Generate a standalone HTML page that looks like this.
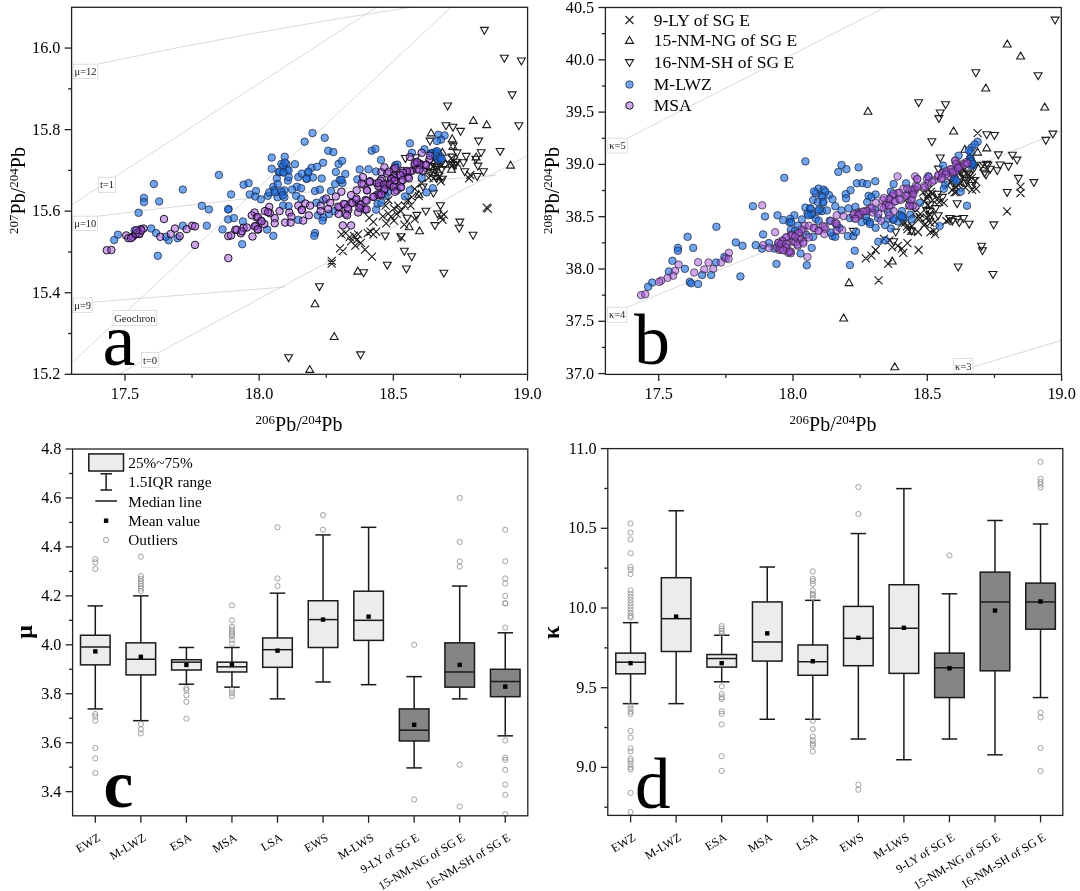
<!DOCTYPE html><html><head><meta charset="utf-8"><style>html,body{margin:0;padding:0;background:#fff;width:1080px;height:891px;overflow:hidden}svg{display:block;will-change:transform}</style></head><body><svg width="1080" height="891" viewBox="0 0 1080 891" font-family="Liberation Serif, serif">
<rect width="1080" height="891" fill="#fff"/>
<g stroke="#cfcfcf" stroke-width="0.8" fill="none">
<path d="M97.8,64 Q259,30 410.7,7.3"/>
<path d="M72,204.6 L376.5,7.3"/>
<path d="M97.5,216.2 Q317.2,188.7 496.4,175.3"/>
<path d="M92.2,302.2 L285,287"/>
<path d="M72.5,362.4 L450.8,7.3"/>
<path d="M117.9,374.3 L527.6,155.5"/>
</g>
<defs><clipPath id="ca"><rect x="71.6" y="7.3" width="456.0" height="367.0"/></clipPath></defs>
<g clip-path="url(#ca)">
<path d="M341.6,229.1L349.6,237.1M341.6,237.1L349.6,229.1M345.7,233.2L353.7,241.2M345.7,241.2L353.7,233.2M349.9,231.8L357.9,239.8M349.9,239.8L357.9,231.8M354.1,230.4L362.1,238.4M354.1,238.4L362.1,230.4M352.7,236.0L360.7,244.0M352.7,244.0L360.7,236.0M356.8,238.8L364.8,246.8M356.8,246.8L364.8,238.8M366.6,227.7L374.6,235.7M366.6,235.7L374.6,227.7M369.3,230.4L377.3,238.4M369.3,238.4L377.3,230.4M363.8,229.1L371.8,237.1M363.8,237.1L371.8,229.1M372.1,227.7L380.1,235.7M372.1,235.7L380.1,227.7M337.4,230.4L345.4,238.4M337.4,238.4L345.4,230.4M336.0,244.3L344.0,252.3M336.0,252.3L344.0,244.3M338.8,247.1L346.8,255.1M338.8,255.1L346.8,247.1M351.3,241.6L359.3,249.6M351.3,249.6L359.3,241.6M361.0,245.7L369.0,253.7M361.0,253.7L369.0,245.7M367.9,252.7L375.9,260.7M367.9,260.7L375.9,252.7M327.7,256.8L335.7,264.8M327.7,264.8L335.7,256.8M327.7,259.6L335.7,267.6M327.7,267.6L335.7,259.6M347.1,237.4L355.1,245.4M347.1,245.4L355.1,237.4M365.2,213.8L373.2,221.8M365.2,221.8L373.2,213.8M369.3,217.9L377.3,225.9M369.3,225.9L377.3,217.9M482.7,203.6L490.7,211.6M482.7,211.6L490.7,203.6M483.8,204.6L491.8,212.6M483.8,212.6L491.8,204.6M466.3,171.0L474.3,179.0M466.3,179.0L474.3,171.0M439.9,210.6L447.9,218.6M439.9,218.6L447.9,210.6M437.1,212.7L445.1,220.7M437.1,220.7L445.1,212.7M431.6,158.5L439.6,166.5M431.6,166.5L439.6,158.5M434.3,165.4L442.3,173.4M434.3,173.4L442.3,165.4M428.8,168.2L436.8,176.2M428.8,176.2L436.8,168.2M424.6,173.8L432.6,181.8M424.6,181.8L432.6,173.8M417.7,179.3L425.7,187.3M417.7,187.3L425.7,179.3M410.7,184.9L418.7,192.9M410.7,192.9L418.7,184.9M407.9,193.2L415.9,201.2M407.9,201.2L415.9,193.2M403.8,196.0L411.8,204.0M403.8,204.0L411.8,196.0M401.0,201.6L409.0,209.6M401.0,209.6L409.0,201.6M394.1,201.6L402.1,209.6M394.1,209.6L402.1,201.6M389.9,204.3L397.9,212.3M389.9,212.3L397.9,204.3M384.3,196.0L392.3,204.0M384.3,204.0L392.3,196.0M381.6,201.6L389.6,209.6M381.6,209.6L389.6,201.6M396.8,207.1L404.8,215.1M396.8,215.1L404.8,207.1M392.7,209.9L400.7,217.9M392.7,217.9L400.7,209.9M387.1,212.7L395.1,220.7M387.1,220.7L395.1,212.7M406.6,201.6L414.6,209.6M406.6,209.6L414.6,201.6M437.1,161.3L445.1,169.3M437.1,169.3L445.1,161.3M428.8,162.7L436.8,170.7M428.8,170.7L436.8,162.7M421.8,168.2L429.8,176.2M421.8,176.2L429.8,168.2M438.5,215.9L446.5,223.9M438.5,223.9L446.5,215.9M410.7,215.2L418.7,223.2M410.7,223.2L418.7,215.2M400.3,220.7L408.3,228.7M400.3,228.7L408.3,220.7M382.2,219.3L390.2,227.3M382.2,227.3L390.2,219.3M397.5,233.9L405.5,241.9M397.5,241.9L405.5,233.9M389.9,216.6L397.9,224.6M389.9,224.6L397.9,216.6M384.3,209.6L392.3,217.6M384.3,217.6L392.3,209.6M378.8,212.4L386.8,220.4M378.8,220.4L386.8,212.4M414.9,192.2L422.9,200.2M414.9,200.2L422.9,192.2M425.8,159.5L433.8,167.5M425.8,167.5L433.8,159.5M429.5,174.3L437.5,182.3M429.5,182.3L437.5,174.3M435.4,172.9L443.4,180.9M435.4,180.9L443.4,172.9M436.9,177.3L444.9,185.3M436.9,185.3L444.9,177.3M447.3,154.3L455.3,162.3M447.3,162.3L455.3,154.3M450.3,156.6L458.3,164.6M450.3,164.6L458.3,156.6M445.1,159.5L453.1,167.5M445.1,167.5L453.1,159.5M448.8,161.0L456.8,169.0M448.8,169.0L456.8,161.0M453.2,159.5L461.2,167.5M453.2,167.5L461.2,159.5M465.1,174.3L473.1,182.3M465.1,182.3L473.1,174.3" stroke="#1c1c1c" stroke-width="1.1" fill="none"/>
<path d="M385.1,239.9L389.1,233.0L381.2,233.0ZM387.2,269.1L391.2,262.2L383.3,262.2ZM363.6,276.7L367.6,269.8L359.7,269.8ZM319.4,290.6L323.4,283.7L315.5,283.7ZM357.8,267.2L361.7,274.1L353.8,274.1ZM315.0,299.8L318.9,306.7L311.1,306.7ZM447.6,109.9L451.6,103.0L443.7,103.0ZM518.9,129.7L522.8,122.8L514.9,122.8ZM446.0,129.7L449.9,122.8L442.0,122.8ZM452.9,131.1L456.9,124.2L449.0,124.2ZM460.6,135.3L464.5,128.4L456.6,128.4ZM478.6,145.0L482.6,138.1L474.7,138.1ZM500.1,155.4L504.1,148.5L496.2,148.5ZM481.1,156.5L485.1,149.7L477.2,149.7ZM466.1,160.3L470.1,153.4L462.2,153.4ZM475.8,163.1L479.8,156.2L471.9,156.2ZM477.9,170.0L481.9,163.1L474.0,163.1ZM464.7,175.6L468.7,168.7L460.8,168.7ZM483.5,175.6L487.4,168.7L479.5,168.7ZM477.2,180.4L481.2,173.5L473.3,173.5ZM452.2,161.0L456.2,154.1L448.3,154.1ZM457.1,156.8L461.0,149.9L453.1,149.9ZM463.3,166.5L467.3,159.7L459.4,159.7ZM455.0,169.3L458.9,162.4L451.1,162.4ZM430.0,145.0L433.9,138.1L426.1,138.1ZM440.4,209.6L444.4,202.7L436.5,202.7ZM425.8,215.2L429.8,208.3L421.9,208.3ZM437.6,217.9L441.6,211.0L433.7,211.0ZM416.8,219.3L420.8,212.4L412.9,212.4ZM407.1,222.1L411.0,215.2L403.1,215.2ZM433.5,197.1L437.4,190.2L429.5,190.2ZM423.1,190.9L427.0,184.0L419.1,184.0ZM442.5,183.2L446.4,176.3L438.6,176.3ZM438.3,179.0L442.3,172.2L434.4,172.2ZM473.3,116.5L477.3,123.4L469.4,123.4ZM486.7,120.7L490.6,127.6L482.7,127.6ZM431.1,129.0L435.1,135.9L427.2,135.9ZM452.2,134.8L456.2,141.7L448.3,141.7ZM510.6,161.2L514.5,168.1L506.6,168.1ZM451.5,165.4L455.5,172.3L447.6,172.3ZM452.9,142.5L456.9,149.4L449.0,149.4ZM418.9,190.4L422.8,197.3L414.9,197.3ZM459.9,226.0L463.8,219.1L455.9,219.1ZM459.2,232.2L463.1,225.3L455.2,225.3ZM434.9,229.5L438.8,222.6L430.9,222.6ZM473.1,239.2L477.0,232.3L469.1,232.3ZM400.8,240.6L404.8,233.7L396.9,233.7ZM404.3,255.2L408.3,248.3L400.4,248.3ZM411.7,260.7L415.6,253.8L407.7,253.8ZM406.4,272.9L410.3,266.0L402.4,266.0ZM443.9,277.1L447.8,270.2L439.9,270.2ZM419.6,226.9L423.5,233.8L415.6,233.8ZM409.2,222.8L413.1,229.7L405.2,229.7ZM484.4,34.3L488.4,27.4L480.5,27.4ZM504.3,62.1L508.3,55.2L500.4,55.2ZM521.4,64.9L525.3,58.0L517.4,58.0ZM512.2,98.8L516.2,91.9L508.3,91.9ZM288.6,361.6L292.6,354.7L284.7,354.7ZM360.6,358.8L364.5,351.9L356.6,351.9ZM334.2,332.6L338.1,339.5L330.2,339.5ZM309.7,365.5L313.7,372.4L305.8,372.4ZM442.4,148.4L446.4,155.3L438.5,155.3ZM438.7,159.5L442.7,166.4L434.8,166.4ZM445.4,160.2L449.3,167.1L441.4,167.1ZM433.5,165.4L437.5,172.3L429.6,172.3ZM437.2,172.1L441.2,179.0L433.3,179.0ZM455.7,166.1L459.7,159.2L451.8,159.2ZM405.4,162.4L409.3,155.5L401.4,155.5ZM415.7,161.6L419.7,154.7L411.8,154.7ZM439.4,164.6L443.4,157.7L435.5,157.7ZM435.0,170.5L438.9,163.6L431.1,163.6ZM441.7,173.5L445.6,166.6L437.7,166.6ZM430.6,176.5L434.5,169.6L426.6,169.6ZM436.5,182.4L440.4,175.5L432.5,175.5ZM453.1,150.0L457.1,143.1L449.2,143.1ZM476.1,153.0L480.1,159.9L472.2,159.9Z" stroke="#1a1a1a" stroke-width="1.1" fill="none" stroke-linejoin="miter"/>
<g fill="rgb(28,108,222)" fill-opacity="0.62" stroke="#1b2b4a" stroke-opacity="0.85" stroke-width="0.9">
<circle cx="218.9" cy="175.0" r="3.75"/>
<circle cx="153.9" cy="184.0" r="3.75"/>
<circle cx="182.8" cy="189.6" r="3.75"/>
<circle cx="243.6" cy="184.7" r="3.75"/>
<circle cx="231.1" cy="194.4" r="3.75"/>
<circle cx="143.9" cy="197.9" r="3.75"/>
<circle cx="143.9" cy="202.1" r="3.75"/>
<circle cx="159.2" cy="201.4" r="3.75"/>
<circle cx="201.9" cy="205.8" r="3.75"/>
<circle cx="208.9" cy="209.4" r="3.75"/>
<circle cx="228.6" cy="209.0" r="3.75"/>
<circle cx="228.1" cy="209.4" r="3.75"/>
<circle cx="138.6" cy="212.8" r="3.75"/>
<circle cx="228.1" cy="219.4" r="3.75"/>
<circle cx="233.9" cy="218.1" r="3.75"/>
<circle cx="242.9" cy="221.5" r="3.75"/>
<circle cx="206.8" cy="225.7" r="3.75"/>
<circle cx="222.5" cy="229.4" r="3.75"/>
<circle cx="182.8" cy="225.7" r="3.75"/>
<circle cx="151.2" cy="228.5" r="3.75"/>
<circle cx="156.1" cy="233.1" r="3.75"/>
<circle cx="117.9" cy="234.7" r="3.75"/>
<circle cx="114.2" cy="240.0" r="3.75"/>
<circle cx="134.6" cy="230.6" r="3.75"/>
<circle cx="168.6" cy="240.3" r="3.75"/>
<circle cx="177.6" cy="238.2" r="3.75"/>
<circle cx="165.8" cy="236.8" r="3.75"/>
<circle cx="242.2" cy="244.2" r="3.75"/>
<circle cx="157.8" cy="255.8" r="3.75"/>
<circle cx="312.5" cy="133.1" r="3.75"/>
<circle cx="304.6" cy="141.7" r="3.75"/>
<circle cx="324.7" cy="137.8" r="3.75"/>
<circle cx="328.2" cy="150.7" r="3.75"/>
<circle cx="333.3" cy="152.1" r="3.75"/>
<circle cx="371.7" cy="150.7" r="3.75"/>
<circle cx="375.4" cy="148.9" r="3.75"/>
<circle cx="271.7" cy="157.6" r="3.75"/>
<circle cx="284.7" cy="156.7" r="3.75"/>
<circle cx="381.0" cy="160.0" r="3.75"/>
<circle cx="281.4" cy="163.9" r="3.75"/>
<circle cx="286.5" cy="164.2" r="3.75"/>
<circle cx="294.9" cy="164.2" r="3.75"/>
<circle cx="323.1" cy="162.8" r="3.75"/>
<circle cx="338.6" cy="163.9" r="3.75"/>
<circle cx="342.1" cy="160.8" r="3.75"/>
<circle cx="271.7" cy="168.8" r="3.75"/>
<circle cx="287.2" cy="169.4" r="3.75"/>
<circle cx="311.5" cy="167.8" r="3.75"/>
<circle cx="317.1" cy="166.7" r="3.75"/>
<circle cx="335.8" cy="171.9" r="3.75"/>
<circle cx="345.3" cy="173.9" r="3.75"/>
<circle cx="359.7" cy="169.4" r="3.75"/>
<circle cx="368.5" cy="169.2" r="3.75"/>
<circle cx="376.1" cy="171.5" r="3.75"/>
<circle cx="278.9" cy="172.2" r="3.75"/>
<circle cx="283.1" cy="172.2" r="3.75"/>
<circle cx="298.3" cy="177.1" r="3.75"/>
<circle cx="301.8" cy="173.6" r="3.75"/>
<circle cx="308.1" cy="172.9" r="3.75"/>
<circle cx="312.9" cy="177.5" r="3.75"/>
<circle cx="306.7" cy="178.9" r="3.75"/>
<circle cx="321.7" cy="178.5" r="3.75"/>
<circle cx="287.9" cy="180.6" r="3.75"/>
<circle cx="288.6" cy="177.1" r="3.75"/>
<circle cx="276.8" cy="178.5" r="3.75"/>
<circle cx="248.6" cy="183.1" r="3.75"/>
<circle cx="273.3" cy="186.8" r="3.75"/>
<circle cx="277.8" cy="184.0" r="3.75"/>
<circle cx="274.0" cy="190.3" r="3.75"/>
<circle cx="296.9" cy="186.8" r="3.75"/>
<circle cx="301.1" cy="188.2" r="3.75"/>
<circle cx="292.1" cy="189.6" r="3.75"/>
<circle cx="315.0" cy="191.0" r="3.75"/>
<circle cx="319.9" cy="189.6" r="3.75"/>
<circle cx="335.1" cy="184.0" r="3.75"/>
<circle cx="342.5" cy="183.1" r="3.75"/>
<circle cx="339.7" cy="179.9" r="3.75"/>
<circle cx="357.4" cy="179.4" r="3.75"/>
<circle cx="331.0" cy="191.0" r="3.75"/>
<circle cx="249.7" cy="194.4" r="3.75"/>
<circle cx="256.0" cy="191.0" r="3.75"/>
<circle cx="255.3" cy="196.5" r="3.75"/>
<circle cx="260.8" cy="199.3" r="3.75"/>
<circle cx="267.8" cy="195.8" r="3.75"/>
<circle cx="269.2" cy="192.4" r="3.75"/>
<circle cx="277.5" cy="197.2" r="3.75"/>
<circle cx="281.7" cy="192.4" r="3.75"/>
<circle cx="284.4" cy="197.2" r="3.75"/>
<circle cx="284.4" cy="190.3" r="3.75"/>
<circle cx="296.2" cy="195.8" r="3.75"/>
<circle cx="301.1" cy="198.9" r="3.75"/>
<circle cx="316.4" cy="202.8" r="3.75"/>
<circle cx="323.3" cy="200.0" r="3.75"/>
<circle cx="283.1" cy="205.6" r="3.75"/>
<circle cx="288.6" cy="206.2" r="3.75"/>
<circle cx="317.8" cy="215.3" r="3.75"/>
<circle cx="323.3" cy="217.4" r="3.75"/>
<circle cx="377.5" cy="203.9" r="3.75"/>
<circle cx="376.1" cy="209.7" r="3.75"/>
<circle cx="328.9" cy="213.9" r="3.75"/>
<circle cx="334.4" cy="211.1" r="3.75"/>
<circle cx="267.1" cy="229.6" r="3.75"/>
<circle cx="273.3" cy="235.8" r="3.75"/>
<circle cx="315.0" cy="233.1" r="3.75"/>
<circle cx="314.3" cy="235.8" r="3.75"/>
<circle cx="322.6" cy="220.6" r="3.75"/>
<circle cx="298.3" cy="219.9" r="3.75"/>
<circle cx="409.9" cy="143.3" r="3.75"/>
<circle cx="438.3" cy="134.7" r="3.75"/>
<circle cx="444.6" cy="135.4" r="3.75"/>
<circle cx="441.1" cy="139.6" r="3.75"/>
<circle cx="436.9" cy="141.0" r="3.75"/>
<circle cx="424.4" cy="149.3" r="3.75"/>
<circle cx="411.9" cy="152.8" r="3.75"/>
<circle cx="435.6" cy="152.8" r="3.75"/>
<circle cx="438.3" cy="158.3" r="3.75"/>
<circle cx="395.3" cy="165.3" r="3.75"/>
<circle cx="397.4" cy="164.6" r="3.75"/>
<circle cx="421.7" cy="177.8" r="3.75"/>
<circle cx="409.9" cy="190.3" r="3.75"/>
<circle cx="405.0" cy="196.5" r="3.75"/>
<circle cx="426.5" cy="192.4" r="3.75"/>
<circle cx="432.8" cy="188.2" r="3.75"/>
<circle cx="385.6" cy="195.8" r="3.75"/>
<circle cx="388.3" cy="191.7" r="3.75"/>
<circle cx="381.4" cy="202.8" r="3.75"/>
<circle cx="431.3" cy="153.1" r="3.75"/>
<circle cx="438.0" cy="153.0" r="3.75"/>
<circle cx="436.0" cy="157.0" r="3.75"/>
<circle cx="440.0" cy="156.0" r="3.75"/>
<circle cx="441.0" cy="160.0" r="3.75"/>
<circle cx="283.2" cy="165.7" r="3.75"/>
<circle cx="284.8" cy="162.5" r="3.75"/>
<circle cx="288.6" cy="170.4" r="3.75"/>
<circle cx="279.6" cy="171.5" r="3.75"/>
<circle cx="283.5" cy="172.6" r="3.75"/>
<circle cx="308.4" cy="171.6" r="3.75"/>
<circle cx="306.4" cy="178.5" r="3.75"/>
<circle cx="274.9" cy="192.3" r="3.75"/>
<circle cx="341.5" cy="180.0" r="3.75"/>
<circle cx="281.4" cy="191.4" r="3.75"/>
<circle cx="282.6" cy="195.3" r="3.75"/>
<circle cx="435.4" cy="152.1" r="3.75"/>
<circle cx="437.9" cy="159.9" r="3.75"/>
<circle cx="431.4" cy="153.4" r="3.75"/>
<circle cx="436.9" cy="151.1" r="3.75"/>
<circle cx="435.3" cy="155.5" r="3.75"/>
<circle cx="440.0" cy="158.0" r="3.75"/>
<circle cx="441.7" cy="158.7" r="3.75"/>
</g>
<g fill="rgb(160,80,215)" fill-opacity="0.5" stroke="#100818" stroke-opacity="0.92" stroke-width="1.0">
<circle cx="106.8" cy="250.3" r="3.75"/>
<circle cx="111.4" cy="250.0" r="3.75"/>
<circle cx="164.0" cy="219.0" r="3.75"/>
<circle cx="195.0" cy="244.9" r="3.75"/>
<circle cx="228.3" cy="258.1" r="3.75"/>
<circle cx="126.2" cy="235.4" r="3.75"/>
<circle cx="128.3" cy="238.2" r="3.75"/>
<circle cx="132.5" cy="236.8" r="3.75"/>
<circle cx="135.3" cy="234.7" r="3.75"/>
<circle cx="139.4" cy="234.0" r="3.75"/>
<circle cx="143.6" cy="228.5" r="3.75"/>
<circle cx="140.8" cy="229.2" r="3.75"/>
<circle cx="138.1" cy="231.9" r="3.75"/>
<circle cx="160.3" cy="236.8" r="3.75"/>
<circle cx="170.7" cy="234.0" r="3.75"/>
<circle cx="174.9" cy="228.5" r="3.75"/>
<circle cx="179.7" cy="236.1" r="3.75"/>
<circle cx="186.7" cy="229.2" r="3.75"/>
<circle cx="192.2" cy="225.7" r="3.75"/>
<circle cx="195.0" cy="226.4" r="3.75"/>
<circle cx="228.3" cy="236.1" r="3.75"/>
<circle cx="231.1" cy="235.4" r="3.75"/>
<circle cx="235.3" cy="229.9" r="3.75"/>
<circle cx="240.8" cy="233.3" r="3.75"/>
<circle cx="243.6" cy="227.8" r="3.75"/>
<circle cx="362.9" cy="177.1" r="3.75"/>
<circle cx="369.9" cy="181.2" r="3.75"/>
<circle cx="381.4" cy="172.2" r="3.75"/>
<circle cx="384.4" cy="167.4" r="3.75"/>
<circle cx="381.7" cy="178.9" r="3.75"/>
<circle cx="387.2" cy="173.6" r="3.75"/>
<circle cx="380.3" cy="186.1" r="3.75"/>
<circle cx="376.8" cy="183.3" r="3.75"/>
<circle cx="385.1" cy="184.7" r="3.75"/>
<circle cx="363.6" cy="184.7" r="3.75"/>
<circle cx="367.1" cy="190.3" r="3.75"/>
<circle cx="356.7" cy="190.3" r="3.75"/>
<circle cx="351.1" cy="195.1" r="3.75"/>
<circle cx="341.4" cy="191.7" r="3.75"/>
<circle cx="335.8" cy="196.5" r="3.75"/>
<circle cx="326.1" cy="198.6" r="3.75"/>
<circle cx="330.3" cy="202.8" r="3.75"/>
<circle cx="320.6" cy="205.6" r="3.75"/>
<circle cx="320.6" cy="211.1" r="3.75"/>
<circle cx="328.2" cy="209.0" r="3.75"/>
<circle cx="339.3" cy="207.6" r="3.75"/>
<circle cx="344.9" cy="204.2" r="3.75"/>
<circle cx="348.3" cy="209.7" r="3.75"/>
<circle cx="351.1" cy="202.8" r="3.75"/>
<circle cx="356.0" cy="200.0" r="3.75"/>
<circle cx="358.8" cy="203.5" r="3.75"/>
<circle cx="360.8" cy="208.3" r="3.75"/>
<circle cx="365.7" cy="200.0" r="3.75"/>
<circle cx="365.0" cy="209.7" r="3.75"/>
<circle cx="377.5" cy="194.4" r="3.75"/>
<circle cx="374.0" cy="196.5" r="3.75"/>
<circle cx="358.1" cy="212.5" r="3.75"/>
<circle cx="345.6" cy="213.9" r="3.75"/>
<circle cx="338.6" cy="213.9" r="3.75"/>
<circle cx="305.3" cy="203.5" r="3.75"/>
<circle cx="310.1" cy="205.6" r="3.75"/>
<circle cx="298.3" cy="205.6" r="3.75"/>
<circle cx="301.8" cy="209.7" r="3.75"/>
<circle cx="308.8" cy="215.3" r="3.75"/>
<circle cx="269.2" cy="206.9" r="3.75"/>
<circle cx="269.9" cy="213.2" r="3.75"/>
<circle cx="265.0" cy="211.1" r="3.75"/>
<circle cx="254.6" cy="212.5" r="3.75"/>
<circle cx="251.8" cy="215.3" r="3.75"/>
<circle cx="256.7" cy="217.4" r="3.75"/>
<circle cx="279.6" cy="211.1" r="3.75"/>
<circle cx="289.3" cy="212.5" r="3.75"/>
<circle cx="291.4" cy="216.7" r="3.75"/>
<circle cx="274.7" cy="218.1" r="3.75"/>
<circle cx="246.9" cy="227.5" r="3.75"/>
<circle cx="252.5" cy="236.5" r="3.75"/>
<circle cx="256.0" cy="226.1" r="3.75"/>
<circle cx="260.8" cy="220.6" r="3.75"/>
<circle cx="264.3" cy="224.0" r="3.75"/>
<circle cx="274.7" cy="223.3" r="3.75"/>
<circle cx="285.1" cy="222.6" r="3.75"/>
<circle cx="290.7" cy="222.6" r="3.75"/>
<circle cx="303.2" cy="220.6" r="3.75"/>
<circle cx="342.8" cy="225.4" r="3.75"/>
<circle cx="351.1" cy="225.4" r="3.75"/>
<circle cx="258.1" cy="229.6" r="3.75"/>
<circle cx="421.7" cy="152.8" r="3.75"/>
<circle cx="409.9" cy="156.9" r="3.75"/>
<circle cx="429.3" cy="159.7" r="3.75"/>
<circle cx="420.3" cy="163.9" r="3.75"/>
<circle cx="425.8" cy="165.3" r="3.75"/>
<circle cx="414.7" cy="165.3" r="3.75"/>
<circle cx="411.9" cy="170.8" r="3.75"/>
<circle cx="417.5" cy="169.4" r="3.75"/>
<circle cx="423.1" cy="170.8" r="3.75"/>
<circle cx="407.1" cy="172.2" r="3.75"/>
<circle cx="402.9" cy="170.8" r="3.75"/>
<circle cx="399.4" cy="175.0" r="3.75"/>
<circle cx="393.9" cy="168.8" r="3.75"/>
<circle cx="393.9" cy="175.7" r="3.75"/>
<circle cx="391.1" cy="179.2" r="3.75"/>
<circle cx="395.3" cy="180.6" r="3.75"/>
<circle cx="400.8" cy="181.9" r="3.75"/>
<circle cx="407.8" cy="177.1" r="3.75"/>
<circle cx="388.3" cy="183.3" r="3.75"/>
<circle cx="392.5" cy="186.8" r="3.75"/>
<circle cx="400.8" cy="187.5" r="3.75"/>
<circle cx="396.7" cy="190.3" r="3.75"/>
<circle cx="384.2" cy="190.3" r="3.75"/>
<circle cx="381.4" cy="194.4" r="3.75"/>
<circle cx="417.5" cy="162.5" r="3.75"/>
<circle cx="430.0" cy="155.6" r="3.75"/>
<circle cx="131.0" cy="238.2" r="3.75"/>
<circle cx="136.3" cy="233.7" r="3.75"/>
<circle cx="139.4" cy="233.8" r="3.75"/>
<circle cx="141.4" cy="230.3" r="3.75"/>
<circle cx="136.4" cy="230.1" r="3.75"/>
<circle cx="236.6" cy="229.6" r="3.75"/>
<circle cx="241.9" cy="231.3" r="3.75"/>
<circle cx="369.6" cy="182.1" r="3.75"/>
<circle cx="380.6" cy="180.7" r="3.75"/>
<circle cx="388.8" cy="171.7" r="3.75"/>
<circle cx="378.4" cy="186.3" r="3.75"/>
<circle cx="378.6" cy="182.9" r="3.75"/>
<circle cx="384.0" cy="184.4" r="3.75"/>
<circle cx="361.7" cy="183.6" r="3.75"/>
<circle cx="366.8" cy="190.3" r="3.75"/>
<circle cx="338.2" cy="206.6" r="3.75"/>
<circle cx="343.7" cy="204.0" r="3.75"/>
<circle cx="347.5" cy="207.8" r="3.75"/>
<circle cx="352.5" cy="203.0" r="3.75"/>
<circle cx="356.5" cy="198.7" r="3.75"/>
<circle cx="360.7" cy="204.9" r="3.75"/>
<circle cx="359.3" cy="207.7" r="3.75"/>
<circle cx="366.6" cy="200.8" r="3.75"/>
<circle cx="366.7" cy="209.4" r="3.75"/>
<circle cx="378.8" cy="195.1" r="3.75"/>
<circle cx="373.2" cy="196.9" r="3.75"/>
<circle cx="347.1" cy="215.3" r="3.75"/>
<circle cx="301.8" cy="210.1" r="3.75"/>
<circle cx="268.0" cy="212.2" r="3.75"/>
<circle cx="257.9" cy="217.0" r="3.75"/>
<circle cx="254.7" cy="226.3" r="3.75"/>
<circle cx="261.6" cy="221.3" r="3.75"/>
<circle cx="257.6" cy="229.3" r="3.75"/>
<circle cx="420.3" cy="165.0" r="3.75"/>
<circle cx="425.9" cy="164.9" r="3.75"/>
<circle cx="414.7" cy="163.4" r="3.75"/>
<circle cx="410.1" cy="171.6" r="3.75"/>
<circle cx="419.4" cy="169.8" r="3.75"/>
<circle cx="406.7" cy="170.9" r="3.75"/>
<circle cx="402.9" cy="172.8" r="3.75"/>
<circle cx="400.5" cy="175.2" r="3.75"/>
<circle cx="395.3" cy="167.7" r="3.75"/>
<circle cx="393.9" cy="177.5" r="3.75"/>
<circle cx="391.4" cy="179.0" r="3.75"/>
<circle cx="394.4" cy="180.7" r="3.75"/>
<circle cx="402.7" cy="180.0" r="3.75"/>
<circle cx="408.9" cy="178.4" r="3.75"/>
<circle cx="389.9" cy="184.3" r="3.75"/>
<circle cx="393.7" cy="186.9" r="3.75"/>
<circle cx="401.1" cy="187.2" r="3.75"/>
<circle cx="394.9" cy="191.8" r="3.75"/>
<circle cx="384.4" cy="189.1" r="3.75"/>
<circle cx="381.4" cy="194.4" r="3.75"/>
<circle cx="416.9" cy="161.9" r="3.75"/>
</g>
</g>
<rect x="73.3" y="64.2" width="24.5" height="14.4" fill="#fff" stroke="#d8d8d8" stroke-width="0.8"/>
<text x="85.55" y="75.0" font-size="10.5" text-anchor="middle" fill="#1a1a1a">μ=12</text>
<rect x="98.4" y="177.2" width="17.2" height="15.2" fill="#fff" stroke="#d8d8d8" stroke-width="0.8"/>
<text x="107.0" y="188.39999999999998" font-size="10.5" text-anchor="middle" fill="#1a1a1a">t=1</text>
<rect x="73.1" y="216.2" width="24.4" height="14.4" fill="#fff" stroke="#d8d8d8" stroke-width="0.8"/>
<text x="85.3" y="226.99999999999997" font-size="10.5" text-anchor="middle" fill="#1a1a1a">μ=10</text>
<rect x="73.2" y="298" width="19" height="14.4" fill="#fff" stroke="#d8d8d8" stroke-width="0.8"/>
<text x="82.7" y="308.8" font-size="10.5" text-anchor="middle" fill="#1a1a1a">μ=9</text>
<rect x="113" y="310.5" width="43.7" height="15" fill="#fff" stroke="#d8d8d8" stroke-width="0.8"/>
<text x="134.85" y="321.6" font-size="10.5" text-anchor="middle" fill="#1a1a1a">Geochron</text>
<rect x="141.5" y="352.5" width="17" height="15" fill="#fff" stroke="#d8d8d8" stroke-width="0.8"/>
<text x="150.0" y="363.6" font-size="10.5" text-anchor="middle" fill="#1a1a1a">t=0</text>
<text x="102.50" y="365.00" font-size="74" text-anchor="start" font-weight="normal" fill="#000" >a</text>
<rect x="71.60" y="7.30" width="456.00" height="367.00" fill="none" stroke="#222" stroke-width="1.3"/>
<line x1="64.60" y1="374.30" x2="71.60" y2="374.30" stroke="#222" stroke-width="1.3" />
<text x="60.40" y="379.30" font-size="16.2" text-anchor="end" font-weight="normal" fill="#000" >15.2</text>
<line x1="64.60" y1="292.74" x2="71.60" y2="292.74" stroke="#222" stroke-width="1.3" />
<text x="60.40" y="297.74" font-size="16.2" text-anchor="end" font-weight="normal" fill="#000" >15.4</text>
<line x1="64.60" y1="211.18" x2="71.60" y2="211.18" stroke="#222" stroke-width="1.3" />
<text x="60.40" y="216.18" font-size="16.2" text-anchor="end" font-weight="normal" fill="#000" >15.6</text>
<line x1="64.60" y1="129.62" x2="71.60" y2="129.62" stroke="#222" stroke-width="1.3" />
<text x="60.40" y="134.62" font-size="16.2" text-anchor="end" font-weight="normal" fill="#000" >15.8</text>
<line x1="64.60" y1="48.06" x2="71.60" y2="48.06" stroke="#222" stroke-width="1.3" />
<text x="60.40" y="53.06" font-size="16.2" text-anchor="end" font-weight="normal" fill="#000" >16.0</text>
<line x1="68.10" y1="333.52" x2="71.60" y2="333.52" stroke="#222" stroke-width="1.3" />
<line x1="68.10" y1="251.96" x2="71.60" y2="251.96" stroke="#222" stroke-width="1.3" />
<line x1="68.10" y1="170.40" x2="71.60" y2="170.40" stroke="#222" stroke-width="1.3" />
<line x1="68.10" y1="88.84" x2="71.60" y2="88.84" stroke="#222" stroke-width="1.3" />
<line x1="125.00" y1="374.30" x2="125.00" y2="380.80" stroke="#222" stroke-width="1.3" />
<text x="125.00" y="398.80" font-size="16.2" text-anchor="middle" font-weight="normal" fill="#000" >17.5</text>
<line x1="259.16" y1="374.30" x2="259.16" y2="380.80" stroke="#222" stroke-width="1.3" />
<text x="259.16" y="398.80" font-size="16.2" text-anchor="middle" font-weight="normal" fill="#000" >18.0</text>
<line x1="393.33" y1="374.30" x2="393.33" y2="380.80" stroke="#222" stroke-width="1.3" />
<text x="393.33" y="398.80" font-size="16.2" text-anchor="middle" font-weight="normal" fill="#000" >18.5</text>
<line x1="527.50" y1="374.30" x2="527.50" y2="380.80" stroke="#222" stroke-width="1.3" />
<text x="527.50" y="398.80" font-size="16.2" text-anchor="middle" font-weight="normal" fill="#000" >19.0</text>
<line x1="192.08" y1="374.30" x2="192.08" y2="377.80" stroke="#222" stroke-width="1.3" />
<line x1="326.25" y1="374.30" x2="326.25" y2="377.80" stroke="#222" stroke-width="1.3" />
<line x1="460.41" y1="374.30" x2="460.41" y2="377.80" stroke="#222" stroke-width="1.3" />
<text x="299" y="431.2" font-size="20" text-anchor="middle" fill="#000"><tspan font-size="13" dy="-7">206</tspan><tspan dy="7">Pb/</tspan><tspan font-size="13" dy="-7">204</tspan><tspan dy="7">Pb</tspan></text>
<text transform="translate(24.7,190.5) rotate(-90)" x="0" y="0" font-size="20" text-anchor="middle" fill="#000"><tspan font-size="13" dy="-7">207</tspan><tspan dy="7">Pb/</tspan><tspan font-size="13" dy="-7">204</tspan><tspan dy="7">Pb</tspan></text>
<g stroke="#cfcfcf" stroke-width="0.8" fill="none">
<path d="M627.3,138.1 L884.9,7.5"/>
<path d="M626.9,307.3 L1061,131.5"/>
<path d="M973,367 L1061,340.5"/>
</g>
<defs><clipPath id="cb"><rect x="605.4" y="7.5" width="455.9" height="366.9"/></clipPath></defs>
<g clip-path="url(#cb)">
<path d="M861.8,254.3L869.8,262.3M861.8,262.3L869.8,254.3M867.4,251.6L875.4,259.6M867.4,259.6L875.4,251.6M871.6,246.0L879.6,254.0M871.6,254.0L879.6,246.0M879.9,234.9L887.9,242.9M879.9,242.9L887.9,234.9M885.4,236.3L893.4,244.3M885.4,244.3L893.4,236.3M888.2,243.2L896.2,251.2M888.2,251.2L896.2,243.2M893.8,241.8L901.8,249.8M893.8,249.8L901.8,241.8M897.9,244.6L905.9,252.6M897.9,252.6L905.9,244.6M903.5,239.1L911.5,247.1M903.5,247.1L911.5,239.1M899.3,248.8L907.3,256.8M899.3,256.8L907.3,248.8M914.6,246.0L922.6,254.0M914.6,254.0L922.6,246.0M884.1,259.9L892.1,267.9M884.1,267.9L892.1,259.9M903.5,225.2L911.5,233.2M903.5,233.2L911.5,225.2M897.9,219.6L905.9,227.6M897.9,227.6L905.9,219.6M913.2,214.1L921.2,222.1M913.2,222.1L921.2,214.1M973.6,129.2L981.6,137.2M973.6,137.2L981.6,129.2M1016.5,182.7L1024.5,190.7M1016.5,190.7L1024.5,182.7M1016.5,189.0L1024.5,197.0M1016.5,197.0L1024.5,189.0M1003.1,207.3L1011.1,215.3M1003.1,215.3L1011.1,207.3M972.2,184.8L980.2,192.8M972.2,192.8L980.2,184.8M948.2,186.2L956.2,194.2M948.2,194.2L956.2,186.2M939.8,198.9L947.8,206.9M939.8,206.9L947.8,198.9M924.3,190.4L932.3,198.4M924.3,198.4L932.3,190.4M928.5,196.1L936.5,204.1M928.5,204.1L936.5,196.1M920.1,197.5L928.1,205.5M920.1,205.5L928.1,197.5M945.4,215.8L953.4,223.8M945.4,223.8L953.4,215.8M920.1,221.4L928.1,229.4M920.1,229.4L928.1,221.4M979.2,162.3L987.2,170.3M979.2,170.3L987.2,162.3M967.9,173.6L975.9,181.6M967.9,181.6L975.9,173.6M959.5,172.2L967.5,180.2M959.5,180.2L967.5,172.2M955.3,179.2L963.3,187.2M955.3,187.2L963.3,179.2M952.4,183.4L960.4,191.4M952.4,191.4L960.4,183.4M934.1,194.7L942.1,202.7M934.1,202.7L942.1,194.7M927.1,187.6L935.1,195.6M927.1,195.6L935.1,187.6M874.6,276.3L882.6,284.3M874.6,284.3L882.6,276.3M926.5,228.2L934.5,236.2M926.5,236.2L934.5,228.2M931.1,230.2L939.1,238.2M931.1,238.2L939.1,230.2M919.1,188.3L927.1,196.3M919.1,196.3L927.1,188.3M924.5,185.6L932.5,193.6M924.5,193.6L932.5,185.6M928.1,190.1L936.1,198.1M928.1,198.1L936.1,190.1M922.7,193.7L930.7,201.7M922.7,201.7L930.7,193.7M935.2,198.2L943.2,206.2M935.2,206.2L943.2,198.2M916.4,209.9L924.4,217.9M916.4,217.9L924.4,209.9M922.7,213.5L930.7,221.5M922.7,221.5L930.7,213.5M926.3,218.8L934.3,226.8M926.3,226.8L934.3,218.8M929.9,226.9L937.9,234.9M929.9,234.9L937.9,226.9M902.9,222.4L910.9,230.4M902.9,230.4L910.9,222.4M901.1,218.8L909.1,226.8M901.1,226.8L909.1,218.8M950.5,188.3L958.5,196.3M950.5,196.3L958.5,188.3M946.9,178.4L954.9,186.4M946.9,186.4L954.9,178.4M942.4,217.0L950.4,225.0M942.4,225.0L950.4,217.0M949.0,174.7L957.0,182.7M949.0,182.7L957.0,174.7M954.7,169.0L962.7,177.0M954.7,177.0L962.7,169.0M960.3,165.7L968.3,173.7M960.3,173.7L968.3,165.7M965.9,172.4L973.9,180.4M965.9,180.4L973.9,172.4M971.5,176.9L979.5,184.9M971.5,184.9L979.5,176.9M954.7,181.4L962.7,189.4M954.7,189.4L962.7,181.4M961.4,183.6L969.4,191.6M961.4,191.6L969.4,183.6M968.1,185.9L976.1,193.9M968.1,193.9L976.1,185.9M947.9,185.9L955.9,193.9M947.9,193.9L955.9,185.9M943.4,181.4L951.4,189.4M943.4,189.4L951.4,181.4M959.1,174.7L967.1,182.7M959.1,182.7L967.1,174.7M952.4,188.1L960.4,196.1M952.4,196.1L960.4,188.1M906.0,201.0L914.0,209.0M906.0,209.0L914.0,201.0M911.0,208.0L919.0,216.0M911.0,216.0L919.0,208.0M916.0,214.0L924.0,222.0M916.0,222.0L924.0,214.0M921.0,220.0L929.0,228.0M921.0,228.0L929.0,220.0M908.0,222.0L916.0,230.0M908.0,230.0L916.0,222.0M914.0,228.0L922.0,236.0M914.0,236.0L922.0,228.0M926.0,211.0L934.0,219.0M926.0,219.0L934.0,211.0M931.0,218.0L939.0,226.0M931.0,226.0L939.0,218.0M904.0,194.0L912.0,202.0M904.0,202.0L912.0,194.0M924.0,201.0L932.0,209.0M924.0,209.0L932.0,201.0" stroke="#1c1c1c" stroke-width="1.1" fill="none"/>
<path d="M853.3,235.3L857.3,228.4L849.4,228.4ZM895.7,236.0L899.6,229.1L891.7,229.1ZM911.7,227.2L915.6,234.1L907.7,234.1ZM892.2,257.1L896.2,264.0L888.3,264.0ZM893.6,245.7L897.6,238.8L889.7,238.8ZM940.3,116.9L944.2,110.0L936.3,110.0ZM938.9,122.5L942.8,115.6L934.9,115.6ZM931.8,145.7L935.8,138.8L927.9,138.8ZM986.7,138.7L990.7,131.8L982.8,131.8ZM994.4,139.4L998.4,132.5L990.5,132.5ZM1052.9,138.0L1056.8,131.1L1048.9,131.1ZM1045.8,144.3L1049.8,137.4L1041.9,137.4ZM940.3,161.9L944.2,155.0L936.3,155.0ZM998.4,158.8L1002.3,151.9L994.4,151.9ZM1012.5,159.1L1016.4,152.2L1008.5,152.2ZM1017.0,164.0L1020.9,157.1L1013.0,157.1ZM986.7,168.2L990.7,161.3L982.8,161.3ZM1000.1,168.9L1004.0,162.0L996.1,162.0ZM1008.5,170.3L1012.5,163.4L1004.6,163.4ZM990.2,173.2L994.2,166.3L986.3,166.3ZM997.3,174.6L1001.2,167.7L993.3,167.7ZM986.0,178.8L990.0,171.9L982.1,171.9ZM1018.4,182.3L1022.3,175.4L1014.4,175.4ZM1033.9,186.5L1037.8,179.6L1029.9,179.6ZM1007.1,196.4L1011.1,189.5L1003.2,189.5ZM957.1,207.6L961.1,200.7L953.2,200.7ZM963.5,222.4L967.4,215.5L959.5,215.5ZM969.1,228.1L973.1,221.2L965.2,221.2ZM993.7,228.8L997.7,221.9L989.8,221.9ZM959.3,226.6L963.2,219.7L955.3,219.7ZM952.2,225.2L956.2,218.3L948.3,218.3ZM938.1,219.6L942.1,212.7L934.2,212.7ZM929.7,215.4L933.7,208.5L925.8,208.5ZM942.4,201.3L946.3,194.4L938.4,194.4ZM966.3,184.4L970.2,177.5L962.3,177.5ZM973.3,184.4L977.3,177.5L969.4,177.5ZM969.1,178.8L973.1,171.9L965.2,171.9ZM953.6,127.1L957.6,134.0L949.7,134.0ZM986.7,144.0L990.7,150.9L982.8,150.9ZM964.9,145.4L968.8,152.3L960.9,152.3ZM977.6,148.2L981.5,155.1L973.6,155.1ZM849.0,278.7L853.0,285.6L845.1,285.6ZM843.6,314.1L847.6,321.0L839.7,321.0ZM1055.1,24.0L1059.0,17.1L1051.1,17.1ZM975.8,76.7L979.8,69.8L971.9,69.8ZM1038.1,79.7L1042.1,72.8L1034.2,72.8ZM918.7,106.6L922.6,99.7L914.7,99.7ZM945.6,108.6L949.5,101.7L941.6,101.7ZM1007.3,40.1L1011.2,47.0L1003.3,47.0ZM1020.6,52.1L1024.6,59.0L1016.7,59.0ZM985.8,84.1L989.7,91.0L981.8,91.0ZM1044.7,103.1L1048.7,110.0L1040.8,110.0ZM867.9,107.4L871.9,114.3L864.0,114.3ZM981.5,250.1L985.5,243.2L977.6,243.2ZM982.5,254.7L986.4,247.8L978.5,247.8ZM958.1,270.9L962.1,264.0L954.2,264.0ZM993.0,278.4L996.9,271.5L989.0,271.5ZM894.7,362.9L898.7,369.8L890.8,369.8ZM937.5,198.2L941.4,191.3L933.5,191.3ZM930.3,208.9L934.2,202.0L926.3,202.0ZM935.7,212.5L939.6,205.6L931.7,205.6ZM926.7,214.3L930.6,207.4L922.7,207.4ZM930.3,219.7L934.2,212.8L926.3,212.8ZM950.0,222.4L954.0,215.5L946.1,215.5ZM957.2,223.3L961.1,216.4L953.2,216.4ZM911.4,235.0L915.4,228.1L907.5,228.1ZM938.3,173.0L942.3,166.1L934.4,166.1ZM960.9,176.0L964.8,169.1L956.9,169.1ZM967.6,177.1L971.6,170.2L963.7,170.2ZM974.4,171.5L978.3,164.6L970.4,164.6ZM981.1,169.2L985.1,162.3L977.2,162.3ZM987.9,169.2L991.8,162.3L983.9,162.3ZM953.0,187.2L957.0,180.3L949.1,180.3ZM965.4,187.2L969.3,180.3L961.4,180.3ZM972.1,189.4L976.1,182.5L968.2,182.5ZM984.5,177.1L988.4,170.2L980.5,170.2Z" stroke="#1a1a1a" stroke-width="1.1" fill="none" stroke-linejoin="miter"/>
<g fill="rgb(28,108,222)" fill-opacity="0.62" stroke="#1b2b4a" stroke-opacity="0.85" stroke-width="0.9">
<circle cx="752.9" cy="206.2" r="3.75"/>
<circle cx="765.0" cy="216.4" r="3.75"/>
<circle cx="777.5" cy="215.3" r="3.75"/>
<circle cx="716.4" cy="226.8" r="3.75"/>
<circle cx="687.6" cy="236.8" r="3.75"/>
<circle cx="677.9" cy="247.9" r="3.75"/>
<circle cx="677.9" cy="250.7" r="3.75"/>
<circle cx="693.2" cy="247.9" r="3.75"/>
<circle cx="735.8" cy="242.4" r="3.75"/>
<circle cx="742.5" cy="245.8" r="3.75"/>
<circle cx="763.1" cy="234.4" r="3.75"/>
<circle cx="755.7" cy="245.1" r="3.75"/>
<circle cx="761.9" cy="248.6" r="3.75"/>
<circle cx="768.9" cy="243.1" r="3.75"/>
<circle cx="672.4" cy="260.8" r="3.75"/>
<circle cx="684.9" cy="268.8" r="3.75"/>
<circle cx="668.9" cy="271.5" r="3.75"/>
<circle cx="652.2" cy="282.6" r="3.75"/>
<circle cx="648.1" cy="286.8" r="3.75"/>
<circle cx="689.7" cy="281.9" r="3.75"/>
<circle cx="691.1" cy="283.3" r="3.75"/>
<circle cx="698.1" cy="284.0" r="3.75"/>
<circle cx="702.2" cy="275.0" r="3.75"/>
<circle cx="711.2" cy="275.0" r="3.75"/>
<circle cx="716.1" cy="262.5" r="3.75"/>
<circle cx="724.4" cy="256.9" r="3.75"/>
<circle cx="740.4" cy="276.4" r="3.75"/>
<circle cx="776.5" cy="263.9" r="3.75"/>
<circle cx="774.4" cy="248.6" r="3.75"/>
<circle cx="805.4" cy="161.4" r="3.75"/>
<circle cx="784.3" cy="177.8" r="3.75"/>
<circle cx="841.5" cy="165.0" r="3.75"/>
<circle cx="846.4" cy="169.2" r="3.75"/>
<circle cx="838.3" cy="171.9" r="3.75"/>
<circle cx="858.6" cy="167.4" r="3.75"/>
<circle cx="856.8" cy="183.3" r="3.75"/>
<circle cx="862.4" cy="183.1" r="3.75"/>
<circle cx="867.2" cy="184.0" r="3.75"/>
<circle cx="875.3" cy="181.2" r="3.75"/>
<circle cx="893.6" cy="184.0" r="3.75"/>
<circle cx="906.1" cy="183.3" r="3.75"/>
<circle cx="850.6" cy="190.3" r="3.75"/>
<circle cx="845.7" cy="194.2" r="3.75"/>
<circle cx="846.1" cy="198.3" r="3.75"/>
<circle cx="818.6" cy="188.6" r="3.75"/>
<circle cx="823.5" cy="189.6" r="3.75"/>
<circle cx="815.8" cy="193.1" r="3.75"/>
<circle cx="821.4" cy="195.8" r="3.75"/>
<circle cx="829.0" cy="195.1" r="3.75"/>
<circle cx="832.5" cy="199.3" r="3.75"/>
<circle cx="813.1" cy="200.0" r="3.75"/>
<circle cx="817.9" cy="202.1" r="3.75"/>
<circle cx="822.8" cy="202.8" r="3.75"/>
<circle cx="835.3" cy="206.2" r="3.75"/>
<circle cx="805.4" cy="207.6" r="3.75"/>
<circle cx="810.3" cy="208.3" r="3.75"/>
<circle cx="818.6" cy="211.1" r="3.75"/>
<circle cx="822.1" cy="211.1" r="3.75"/>
<circle cx="826.9" cy="210.4" r="3.75"/>
<circle cx="811.7" cy="214.6" r="3.75"/>
<circle cx="807.5" cy="213.2" r="3.75"/>
<circle cx="841.5" cy="210.4" r="3.75"/>
<circle cx="848.5" cy="208.3" r="3.75"/>
<circle cx="855.4" cy="206.9" r="3.75"/>
<circle cx="783.2" cy="220.1" r="3.75"/>
<circle cx="794.3" cy="215.3" r="3.75"/>
<circle cx="790.1" cy="218.8" r="3.75"/>
<circle cx="789.4" cy="222.2" r="3.75"/>
<circle cx="801.9" cy="219.4" r="3.75"/>
<circle cx="797.8" cy="225.7" r="3.75"/>
<circle cx="815.8" cy="218.8" r="3.75"/>
<circle cx="818.6" cy="220.8" r="3.75"/>
<circle cx="829.7" cy="220.8" r="3.75"/>
<circle cx="836.7" cy="225.7" r="3.75"/>
<circle cx="839.4" cy="227.8" r="3.75"/>
<circle cx="832.5" cy="236.1" r="3.75"/>
<circle cx="835.3" cy="236.8" r="3.75"/>
<circle cx="831.1" cy="232.6" r="3.75"/>
<circle cx="847.8" cy="236.1" r="3.75"/>
<circle cx="853.3" cy="236.1" r="3.75"/>
<circle cx="856.1" cy="231.9" r="3.75"/>
<circle cx="849.9" cy="218.1" r="3.75"/>
<circle cx="868.6" cy="195.8" r="3.75"/>
<circle cx="875.6" cy="194.4" r="3.75"/>
<circle cx="871.4" cy="197.2" r="3.75"/>
<circle cx="867.2" cy="202.1" r="3.75"/>
<circle cx="890.8" cy="191.7" r="3.75"/>
<circle cx="811.7" cy="247.9" r="3.75"/>
<circle cx="800.6" cy="253.5" r="3.75"/>
<circle cx="806.8" cy="265.3" r="3.75"/>
<circle cx="849.9" cy="265.0" r="3.75"/>
<circle cx="854.7" cy="250.7" r="3.75"/>
<circle cx="875.6" cy="227.8" r="3.75"/>
<circle cx="878.3" cy="241.7" r="3.75"/>
<circle cx="885.3" cy="240.3" r="3.75"/>
<circle cx="890.8" cy="228.5" r="3.75"/>
<circle cx="888.1" cy="218.8" r="3.75"/>
<circle cx="897.8" cy="221.5" r="3.75"/>
<circle cx="903.3" cy="218.1" r="3.75"/>
<circle cx="910.3" cy="214.6" r="3.75"/>
<circle cx="911.7" cy="219.4" r="3.75"/>
<circle cx="901.9" cy="211.1" r="3.75"/>
<circle cx="861.7" cy="222.2" r="3.75"/>
<circle cx="867.2" cy="220.8" r="3.75"/>
<circle cx="790.8" cy="229.9" r="3.75"/>
<circle cx="795.0" cy="230.6" r="3.75"/>
<circle cx="806.1" cy="234.7" r="3.75"/>
<circle cx="813.1" cy="236.8" r="3.75"/>
<circle cx="977.6" cy="141.7" r="3.75"/>
<circle cx="971.9" cy="147.3" r="3.75"/>
<circle cx="974.7" cy="144.5" r="3.75"/>
<circle cx="970.5" cy="152.2" r="3.75"/>
<circle cx="958.6" cy="155.7" r="3.75"/>
<circle cx="970.5" cy="159.3" r="3.75"/>
<circle cx="971.9" cy="164.2" r="3.75"/>
<circle cx="943.1" cy="165.6" r="3.75"/>
<circle cx="955.0" cy="178.3" r="3.75"/>
<circle cx="945.2" cy="184.6" r="3.75"/>
<circle cx="943.8" cy="188.8" r="3.75"/>
<circle cx="960.7" cy="191.6" r="3.75"/>
<circle cx="967.0" cy="205.7" r="3.75"/>
<circle cx="939.6" cy="226.1" r="3.75"/>
<circle cx="919.9" cy="202.9" r="3.75"/>
<circle cx="928.3" cy="176.2" r="3.75"/>
<circle cx="969.9" cy="158.4" r="3.75"/>
<circle cx="972.1" cy="162.9" r="3.75"/>
<circle cx="973.3" cy="165.2" r="3.75"/>
<circle cx="954.2" cy="178.7" r="3.75"/>
<circle cx="956.4" cy="180.9" r="3.75"/>
<circle cx="870.0" cy="222.0" r="3.75"/>
<circle cx="878.0" cy="218.0" r="3.75"/>
<circle cx="885.0" cy="225.0" r="3.75"/>
<circle cx="893.0" cy="220.0" r="3.75"/>
<circle cx="900.0" cy="215.0" r="3.75"/>
<circle cx="888.0" cy="212.0" r="3.75"/>
<circle cx="875.0" cy="210.0" r="3.75"/>
<circle cx="866.0" cy="216.0" r="3.75"/>
<circle cx="825.3" cy="191.4" r="3.75"/>
<circle cx="814.1" cy="191.4" r="3.75"/>
<circle cx="822.7" cy="196.8" r="3.75"/>
<circle cx="823.5" cy="202.0" r="3.75"/>
<circle cx="810.7" cy="208.8" r="3.75"/>
<circle cx="818.9" cy="209.7" r="3.75"/>
<circle cx="811.4" cy="214.2" r="3.75"/>
<circle cx="808.4" cy="215.2" r="3.75"/>
<circle cx="791.2" cy="222.4" r="3.75"/>
<circle cx="903.1" cy="217.1" r="3.75"/>
<circle cx="968.7" cy="150.3" r="3.75"/>
<circle cx="970.4" cy="158.5" r="3.75"/>
<circle cx="971.4" cy="165.8" r="3.75"/>
<circle cx="970.0" cy="158.7" r="3.75"/>
<circle cx="971.1" cy="161.0" r="3.75"/>
<circle cx="972.6" cy="163.7" r="3.75"/>
<circle cx="870.0" cy="224.0" r="3.75"/>
<circle cx="893.7" cy="218.7" r="3.75"/>
<circle cx="901.6" cy="216.2" r="3.75"/>
</g>
<g fill="rgb(160,80,215)" fill-opacity="0.5" stroke="#2a2030" stroke-opacity="0.75" stroke-width="0.9">
<circle cx="762.2" cy="205.3" r="3.75"/>
<circle cx="775.1" cy="232.2" r="3.75"/>
<circle cx="641.1" cy="295.1" r="3.75"/>
<circle cx="645.3" cy="294.2" r="3.75"/>
<circle cx="678.6" cy="264.6" r="3.75"/>
<circle cx="675.1" cy="270.8" r="3.75"/>
<circle cx="673.1" cy="275.7" r="3.75"/>
<circle cx="667.5" cy="277.8" r="3.75"/>
<circle cx="661.2" cy="280.6" r="3.75"/>
<circle cx="659.2" cy="281.9" r="3.75"/>
<circle cx="698.1" cy="262.2" r="3.75"/>
<circle cx="694.2" cy="272.5" r="3.75"/>
<circle cx="704.3" cy="269.4" r="3.75"/>
<circle cx="708.5" cy="262.5" r="3.75"/>
<circle cx="713.3" cy="268.8" r="3.75"/>
<circle cx="721.0" cy="262.5" r="3.75"/>
<circle cx="725.8" cy="258.3" r="3.75"/>
<circle cx="728.9" cy="252.8" r="3.75"/>
<circle cx="728.6" cy="259.0" r="3.75"/>
<circle cx="763.3" cy="245.1" r="3.75"/>
<circle cx="768.9" cy="247.9" r="3.75"/>
<circle cx="778.6" cy="245.8" r="3.75"/>
<circle cx="779.3" cy="250.0" r="3.75"/>
<circle cx="897.5" cy="176.4" r="3.75"/>
<circle cx="915.1" cy="176.4" r="3.75"/>
<circle cx="917.2" cy="179.2" r="3.75"/>
<circle cx="914.4" cy="188.9" r="3.75"/>
<circle cx="908.9" cy="190.3" r="3.75"/>
<circle cx="903.3" cy="188.9" r="3.75"/>
<circle cx="897.8" cy="193.1" r="3.75"/>
<circle cx="892.2" cy="195.8" r="3.75"/>
<circle cx="889.4" cy="198.6" r="3.75"/>
<circle cx="886.7" cy="202.8" r="3.75"/>
<circle cx="882.5" cy="200.0" r="3.75"/>
<circle cx="890.8" cy="205.6" r="3.75"/>
<circle cx="875.6" cy="202.8" r="3.75"/>
<circle cx="870.0" cy="208.3" r="3.75"/>
<circle cx="867.2" cy="211.1" r="3.75"/>
<circle cx="872.8" cy="212.5" r="3.75"/>
<circle cx="878.3" cy="213.9" r="3.75"/>
<circle cx="883.9" cy="208.3" r="3.75"/>
<circle cx="881.1" cy="220.8" r="3.75"/>
<circle cx="895.0" cy="201.4" r="3.75"/>
<circle cx="900.6" cy="200.0" r="3.75"/>
<circle cx="907.5" cy="195.8" r="3.75"/>
<circle cx="913.1" cy="191.7" r="3.75"/>
<circle cx="915.8" cy="206.9" r="3.75"/>
<circle cx="908.9" cy="205.6" r="3.75"/>
<circle cx="893.6" cy="211.1" r="3.75"/>
<circle cx="889.4" cy="215.3" r="3.75"/>
<circle cx="853.3" cy="215.3" r="3.75"/>
<circle cx="857.5" cy="212.5" r="3.75"/>
<circle cx="860.3" cy="215.3" r="3.75"/>
<circle cx="854.7" cy="218.1" r="3.75"/>
<circle cx="861.7" cy="211.8" r="3.75"/>
<circle cx="836.7" cy="215.3" r="3.75"/>
<circle cx="843.6" cy="216.0" r="3.75"/>
<circle cx="831.1" cy="220.8" r="3.75"/>
<circle cx="835.3" cy="222.9" r="3.75"/>
<circle cx="836.7" cy="230.6" r="3.75"/>
<circle cx="842.2" cy="229.9" r="3.75"/>
<circle cx="804.7" cy="225.7" r="3.75"/>
<circle cx="808.9" cy="225.7" r="3.75"/>
<circle cx="814.4" cy="227.8" r="3.75"/>
<circle cx="822.8" cy="225.7" r="3.75"/>
<circle cx="825.6" cy="229.2" r="3.75"/>
<circle cx="818.6" cy="230.6" r="3.75"/>
<circle cx="824.2" cy="234.0" r="3.75"/>
<circle cx="803.3" cy="230.6" r="3.75"/>
<circle cx="797.8" cy="233.3" r="3.75"/>
<circle cx="800.6" cy="238.9" r="3.75"/>
<circle cx="790.8" cy="234.7" r="3.75"/>
<circle cx="786.7" cy="237.5" r="3.75"/>
<circle cx="782.5" cy="240.3" r="3.75"/>
<circle cx="778.3" cy="243.1" r="3.75"/>
<circle cx="781.1" cy="245.8" r="3.75"/>
<circle cx="788.1" cy="243.1" r="3.75"/>
<circle cx="793.6" cy="241.7" r="3.75"/>
<circle cx="797.8" cy="245.8" r="3.75"/>
<circle cx="790.8" cy="251.4" r="3.75"/>
<circle cx="785.3" cy="247.2" r="3.75"/>
<circle cx="788.1" cy="252.8" r="3.75"/>
<circle cx="807.5" cy="256.9" r="3.75"/>
<circle cx="808.9" cy="237.5" r="3.75"/>
<circle cx="803.3" cy="241.7" r="3.75"/>
<circle cx="795.0" cy="236.8" r="3.75"/>
<circle cx="783.9" cy="250.0" r="3.75"/>
<circle cx="926.9" cy="179.0" r="3.75"/>
<circle cx="928.3" cy="183.2" r="3.75"/>
<circle cx="924.1" cy="186.0" r="3.75"/>
<circle cx="915.6" cy="186.0" r="3.75"/>
<circle cx="912.1" cy="194.4" r="3.75"/>
<circle cx="911.4" cy="200.1" r="3.75"/>
<circle cx="933.9" cy="180.4" r="3.75"/>
<circle cx="938.1" cy="176.2" r="3.75"/>
<circle cx="942.4" cy="173.3" r="3.75"/>
<circle cx="946.6" cy="171.9" r="3.75"/>
<circle cx="950.8" cy="169.1" r="3.75"/>
<circle cx="955.0" cy="160.7" r="3.75"/>
<circle cx="957.9" cy="164.9" r="3.75"/>
<circle cx="960.7" cy="166.3" r="3.75"/>
<circle cx="963.5" cy="163.5" r="3.75"/>
<circle cx="966.3" cy="162.1" r="3.75"/>
<circle cx="956.4" cy="170.5" r="3.75"/>
<circle cx="952.2" cy="173.3" r="3.75"/>
<circle cx="948.0" cy="176.2" r="3.75"/>
<circle cx="941.0" cy="179.0" r="3.75"/>
<circle cx="959.3" cy="167.7" r="3.75"/>
<circle cx="912.8" cy="205.7" r="3.75"/>
<circle cx="777.1" cy="247.2" r="3.75"/>
<circle cx="780.4" cy="249.0" r="3.75"/>
<circle cx="917.2" cy="179.0" r="3.75"/>
<circle cx="915.1" cy="190.0" r="3.75"/>
<circle cx="907.3" cy="188.4" r="3.75"/>
<circle cx="899.1" cy="192.8" r="3.75"/>
<circle cx="893.3" cy="193.8" r="3.75"/>
<circle cx="889.2" cy="199.5" r="3.75"/>
<circle cx="885.6" cy="204.6" r="3.75"/>
<circle cx="884.1" cy="198.1" r="3.75"/>
<circle cx="888.9" cy="205.7" r="3.75"/>
<circle cx="871.8" cy="207.9" r="3.75"/>
<circle cx="866.1" cy="210.8" r="3.75"/>
<circle cx="882.0" cy="207.2" r="3.75"/>
<circle cx="894.8" cy="201.4" r="3.75"/>
<circle cx="899.5" cy="198.9" r="3.75"/>
<circle cx="906.4" cy="195.7" r="3.75"/>
<circle cx="912.2" cy="189.8" r="3.75"/>
<circle cx="910.2" cy="205.8" r="3.75"/>
<circle cx="853.9" cy="214.0" r="3.75"/>
<circle cx="859.5" cy="213.9" r="3.75"/>
<circle cx="858.8" cy="214.6" r="3.75"/>
<circle cx="855.6" cy="218.9" r="3.75"/>
<circle cx="863.4" cy="211.5" r="3.75"/>
<circle cx="836.6" cy="223.6" r="3.75"/>
<circle cx="813.7" cy="228.1" r="3.75"/>
<circle cx="824.3" cy="227.1" r="3.75"/>
<circle cx="818.6" cy="230.9" r="3.75"/>
<circle cx="801.5" cy="229.5" r="3.75"/>
<circle cx="799.0" cy="233.0" r="3.75"/>
<circle cx="799.2" cy="239.1" r="3.75"/>
<circle cx="791.6" cy="235.4" r="3.75"/>
<circle cx="786.2" cy="237.3" r="3.75"/>
<circle cx="782.5" cy="241.4" r="3.75"/>
<circle cx="778.4" cy="242.6" r="3.75"/>
<circle cx="781.1" cy="244.0" r="3.75"/>
<circle cx="786.2" cy="243.9" r="3.75"/>
<circle cx="795.5" cy="242.0" r="3.75"/>
<circle cx="797.4" cy="244.5" r="3.75"/>
<circle cx="790.8" cy="253.3" r="3.75"/>
<circle cx="786.4" cy="247.4" r="3.75"/>
<circle cx="789.5" cy="251.7" r="3.75"/>
<circle cx="803.4" cy="243.5" r="3.75"/>
<circle cx="795.3" cy="236.6" r="3.75"/>
<circle cx="783.0" cy="250.2" r="3.75"/>
<circle cx="928.7" cy="177.0" r="3.75"/>
<circle cx="925.2" cy="187.3" r="3.75"/>
<circle cx="917.2" cy="187.0" r="3.75"/>
<circle cx="913.3" cy="194.5" r="3.75"/>
<circle cx="911.7" cy="199.8" r="3.75"/>
<circle cx="932.2" cy="181.9" r="3.75"/>
<circle cx="938.4" cy="174.9" r="3.75"/>
<circle cx="942.4" cy="173.3" r="3.75"/>
<circle cx="946.0" cy="171.3" r="3.75"/>
<circle cx="951.0" cy="169.6" r="3.75"/>
<circle cx="955.5" cy="160.5" r="3.75"/>
<circle cx="956.0" cy="163.8" r="3.75"/>
<circle cx="959.4" cy="166.6" r="3.75"/>
<circle cx="964.9" cy="164.7" r="3.75"/>
<circle cx="967.5" cy="163.3" r="3.75"/>
<circle cx="955.5" cy="171.9" r="3.75"/>
<circle cx="952.9" cy="171.7" r="3.75"/>
<circle cx="946.1" cy="174.2" r="3.75"/>
<circle cx="942.0" cy="178.0" r="3.75"/>
<circle cx="957.7" cy="168.2" r="3.75"/>
</g>
</g>
<rect x="607.8" y="138.1" width="19.5" height="15" fill="#fff" stroke="#d8d8d8" stroke-width="0.8"/>
<text x="617.55" y="149.2" font-size="10.5" text-anchor="middle" fill="#1a1a1a">κ=5</text>
<rect x="607.4" y="307.3" width="19.5" height="15" fill="#fff" stroke="#d8d8d8" stroke-width="0.8"/>
<text x="617.15" y="318.40000000000003" font-size="10.5" text-anchor="middle" fill="#1a1a1a">κ=4</text>
<rect x="953.7" y="358.4" width="19.3" height="15" fill="#fff" stroke="#d8d8d8" stroke-width="0.8"/>
<text x="963.35" y="369.5" font-size="10.5" text-anchor="middle" fill="#1a1a1a">κ=3</text>
<text x="634.00" y="364.00" font-size="72" text-anchor="start" font-weight="normal" fill="#000" >b</text>
<rect x="605.40" y="7.50" width="455.90" height="366.90" fill="none" stroke="#222" stroke-width="1.3"/>
<line x1="598.40" y1="373.60" x2="605.40" y2="373.60" stroke="#222" stroke-width="1.3" />
<text x="594.20" y="378.60" font-size="16.2" text-anchor="end" font-weight="normal" fill="#000" >37.0</text>
<line x1="598.40" y1="321.30" x2="605.40" y2="321.30" stroke="#222" stroke-width="1.3" />
<text x="594.20" y="326.30" font-size="16.2" text-anchor="end" font-weight="normal" fill="#000" >37.5</text>
<line x1="598.40" y1="269.00" x2="605.40" y2="269.00" stroke="#222" stroke-width="1.3" />
<text x="594.20" y="274.00" font-size="16.2" text-anchor="end" font-weight="normal" fill="#000" >38.0</text>
<line x1="598.40" y1="216.70" x2="605.40" y2="216.70" stroke="#222" stroke-width="1.3" />
<text x="594.20" y="221.70" font-size="16.2" text-anchor="end" font-weight="normal" fill="#000" >38.5</text>
<line x1="598.40" y1="164.40" x2="605.40" y2="164.40" stroke="#222" stroke-width="1.3" />
<text x="594.20" y="169.40" font-size="16.2" text-anchor="end" font-weight="normal" fill="#000" >39.0</text>
<line x1="598.40" y1="112.10" x2="605.40" y2="112.10" stroke="#222" stroke-width="1.3" />
<text x="594.20" y="117.10" font-size="16.2" text-anchor="end" font-weight="normal" fill="#000" >39.5</text>
<line x1="598.40" y1="59.80" x2="605.40" y2="59.80" stroke="#222" stroke-width="1.3" />
<text x="594.20" y="64.80" font-size="16.2" text-anchor="end" font-weight="normal" fill="#000" >40.0</text>
<line x1="598.40" y1="7.50" x2="605.40" y2="7.50" stroke="#222" stroke-width="1.3" />
<text x="594.20" y="12.50" font-size="16.2" text-anchor="end" font-weight="normal" fill="#000" >40.5</text>
<line x1="601.90" y1="347.45" x2="605.40" y2="347.45" stroke="#222" stroke-width="1.3" />
<line x1="601.90" y1="295.15" x2="605.40" y2="295.15" stroke="#222" stroke-width="1.3" />
<line x1="601.90" y1="242.85" x2="605.40" y2="242.85" stroke="#222" stroke-width="1.3" />
<line x1="601.90" y1="190.55" x2="605.40" y2="190.55" stroke="#222" stroke-width="1.3" />
<line x1="601.90" y1="138.25" x2="605.40" y2="138.25" stroke="#222" stroke-width="1.3" />
<line x1="601.90" y1="85.95" x2="605.40" y2="85.95" stroke="#222" stroke-width="1.3" />
<line x1="601.90" y1="33.65" x2="605.40" y2="33.65" stroke="#222" stroke-width="1.3" />
<line x1="658.70" y1="374.40" x2="658.70" y2="380.90" stroke="#222" stroke-width="1.3" />
<text x="658.70" y="398.90" font-size="16.2" text-anchor="middle" font-weight="normal" fill="#000" >17.5</text>
<line x1="793.00" y1="374.40" x2="793.00" y2="380.90" stroke="#222" stroke-width="1.3" />
<text x="793.00" y="398.90" font-size="16.2" text-anchor="middle" font-weight="normal" fill="#000" >18.0</text>
<line x1="927.30" y1="374.40" x2="927.30" y2="380.90" stroke="#222" stroke-width="1.3" />
<text x="927.30" y="398.90" font-size="16.2" text-anchor="middle" font-weight="normal" fill="#000" >18.5</text>
<line x1="1061.60" y1="374.40" x2="1061.60" y2="380.90" stroke="#222" stroke-width="1.3" />
<text x="1061.60" y="398.90" font-size="16.2" text-anchor="middle" font-weight="normal" fill="#000" >19.0</text>
<line x1="725.85" y1="374.40" x2="725.85" y2="377.90" stroke="#222" stroke-width="1.3" />
<line x1="860.15" y1="374.40" x2="860.15" y2="377.90" stroke="#222" stroke-width="1.3" />
<line x1="994.45" y1="374.40" x2="994.45" y2="377.90" stroke="#222" stroke-width="1.3" />
<text x="833" y="431.2" font-size="20" text-anchor="middle" fill="#000"><tspan font-size="13" dy="-7">206</tspan><tspan dy="7">Pb/</tspan><tspan font-size="13" dy="-7">204</tspan><tspan dy="7">Pb</tspan></text>
<text transform="translate(558.8,190.5) rotate(-90)" x="0" y="0" font-size="20" text-anchor="middle" fill="#000"><tspan font-size="13" dy="-7">208</tspan><tspan dy="7">Pb/</tspan><tspan font-size="13" dy="-7">204</tspan><tspan dy="7">Pb</tspan></text>
<g clip-path="url(#cb)">
<path d="M625.5,16.0L633.5,24.0M625.5,24.0L633.5,16.0" stroke="#1c1c1c" stroke-width="1.1" fill="none"/>
<path d="M629.5,36.4L633.5,43.4L625.5,43.4ZM629.5,66.5L633.5,59.6L625.5,59.6Z" stroke="#1a1a1a" stroke-width="1.1" fill="none" stroke-linejoin="miter"/>
<g fill="rgb(28,108,222)" fill-opacity="0.62" stroke="#1b2b4a" stroke-opacity="0.85" stroke-width="0.9">
<circle cx="629.5" cy="84.5" r="3.75"/>
</g>
<g fill="rgb(160,80,215)" fill-opacity="0.5" stroke="#100818" stroke-opacity="0.92" stroke-width="1.0">
<circle cx="629.5" cy="105.5" r="3.75"/>
</g>
</g>
<text x="653.75" y="25.80" font-size="17.5" fill="#000">9-LY of SG E</text>
<text x="653.75" y="46.30" font-size="17.5" fill="#000">15-NM-NG of SG E</text>
<text x="653.75" y="68.30" font-size="17.5" fill="#000">16-NM-SH of SG E</text>
<text x="653.75" y="90.30" font-size="17.5" fill="#000">M-LWZ</text>
<text x="653.75" y="111.30" font-size="17.5" fill="#000">MSA</text>
<line x1="95.30" y1="605.88" x2="95.30" y2="635.25" stroke="#1a1a1a" stroke-width="1.5"/>
<line x1="95.30" y1="664.87" x2="95.30" y2="708.92" stroke="#1a1a1a" stroke-width="1.5"/>
<line x1="87.55" y1="605.88" x2="103.05" y2="605.88" stroke="#1a1a1a" stroke-width="1.5"/>
<line x1="87.55" y1="708.92" x2="103.05" y2="708.92" stroke="#1a1a1a" stroke-width="1.5"/>
<rect x="80.50" y="635.25" width="29.60" height="29.61" fill="#ececec" stroke="#1a1a1a" stroke-width="1.5"/>
<line x1="80.50" y1="647.00" x2="110.10" y2="647.00" stroke="#1a1a1a" stroke-width="1.5"/>
<rect x="93.10" y="649.21" width="4.4" height="4.4" fill="#000"/>
<circle cx="95.30" cy="559.14" r="2.6" fill="none" stroke="#8a8a8a" stroke-width="0.8"/>
<circle cx="95.30" cy="562.32" r="2.6" fill="none" stroke="#8a8a8a" stroke-width="0.8"/>
<circle cx="95.30" cy="568.93" r="2.6" fill="none" stroke="#8a8a8a" stroke-width="0.8"/>
<circle cx="95.30" cy="714.06" r="2.6" fill="none" stroke="#8a8a8a" stroke-width="0.8"/>
<circle cx="95.30" cy="716.51" r="2.6" fill="none" stroke="#8a8a8a" stroke-width="0.8"/>
<circle cx="95.30" cy="720.67" r="2.6" fill="none" stroke="#8a8a8a" stroke-width="0.8"/>
<circle cx="95.30" cy="748.08" r="2.6" fill="none" stroke="#8a8a8a" stroke-width="0.8"/>
<circle cx="95.30" cy="758.36" r="2.6" fill="none" stroke="#8a8a8a" stroke-width="0.8"/>
<circle cx="95.30" cy="773.05" r="2.6" fill="none" stroke="#8a8a8a" stroke-width="0.8"/>
<line x1="140.85" y1="595.85" x2="140.85" y2="642.84" stroke="#1a1a1a" stroke-width="1.5"/>
<line x1="140.85" y1="674.90" x2="140.85" y2="720.67" stroke="#1a1a1a" stroke-width="1.5"/>
<line x1="133.10" y1="595.85" x2="148.60" y2="595.85" stroke="#1a1a1a" stroke-width="1.5"/>
<line x1="133.10" y1="720.67" x2="148.60" y2="720.67" stroke="#1a1a1a" stroke-width="1.5"/>
<rect x="126.05" y="642.84" width="29.60" height="32.06" fill="#ececec" stroke="#1a1a1a" stroke-width="1.5"/>
<line x1="126.05" y1="659.24" x2="155.65" y2="659.24" stroke="#1a1a1a" stroke-width="1.5"/>
<rect x="138.65" y="654.59" width="4.4" height="4.4" fill="#000"/>
<circle cx="140.85" cy="556.69" r="2.6" fill="none" stroke="#8a8a8a" stroke-width="0.8"/>
<circle cx="140.85" cy="576.03" r="2.6" fill="none" stroke="#8a8a8a" stroke-width="0.8"/>
<circle cx="140.85" cy="578.72" r="2.6" fill="none" stroke="#8a8a8a" stroke-width="0.8"/>
<circle cx="140.85" cy="581.16" r="2.6" fill="none" stroke="#8a8a8a" stroke-width="0.8"/>
<circle cx="140.85" cy="583.61" r="2.6" fill="none" stroke="#8a8a8a" stroke-width="0.8"/>
<circle cx="140.85" cy="586.06" r="2.6" fill="none" stroke="#8a8a8a" stroke-width="0.8"/>
<circle cx="140.85" cy="588.51" r="2.6" fill="none" stroke="#8a8a8a" stroke-width="0.8"/>
<circle cx="140.85" cy="590.96" r="2.6" fill="none" stroke="#8a8a8a" stroke-width="0.8"/>
<circle cx="140.85" cy="724.10" r="2.6" fill="none" stroke="#8a8a8a" stroke-width="0.8"/>
<circle cx="140.85" cy="729.24" r="2.6" fill="none" stroke="#8a8a8a" stroke-width="0.8"/>
<circle cx="140.85" cy="733.40" r="2.6" fill="none" stroke="#8a8a8a" stroke-width="0.8"/>
<line x1="186.40" y1="647.49" x2="186.40" y2="659.73" stroke="#1a1a1a" stroke-width="1.5"/>
<line x1="186.40" y1="670.01" x2="186.40" y2="684.20" stroke="#1a1a1a" stroke-width="1.5"/>
<line x1="178.65" y1="647.49" x2="194.15" y2="647.49" stroke="#1a1a1a" stroke-width="1.5"/>
<line x1="178.65" y1="684.20" x2="194.15" y2="684.20" stroke="#1a1a1a" stroke-width="1.5"/>
<rect x="171.60" y="659.73" width="29.60" height="10.28" fill="#ececec" stroke="#1a1a1a" stroke-width="1.5"/>
<line x1="171.60" y1="662.18" x2="201.20" y2="662.18" stroke="#1a1a1a" stroke-width="1.5"/>
<rect x="184.20" y="662.67" width="4.4" height="4.4" fill="#000"/>
<circle cx="186.40" cy="688.12" r="2.6" fill="none" stroke="#8a8a8a" stroke-width="0.8"/>
<circle cx="186.40" cy="690.08" r="2.6" fill="none" stroke="#8a8a8a" stroke-width="0.8"/>
<circle cx="186.40" cy="695.22" r="2.6" fill="none" stroke="#8a8a8a" stroke-width="0.8"/>
<circle cx="186.40" cy="701.83" r="2.6" fill="none" stroke="#8a8a8a" stroke-width="0.8"/>
<circle cx="186.40" cy="718.71" r="2.6" fill="none" stroke="#8a8a8a" stroke-width="0.8"/>
<line x1="231.95" y1="647.49" x2="231.95" y2="662.18" stroke="#1a1a1a" stroke-width="1.5"/>
<line x1="231.95" y1="671.97" x2="231.95" y2="687.14" stroke="#1a1a1a" stroke-width="1.5"/>
<line x1="224.20" y1="647.49" x2="239.70" y2="647.49" stroke="#1a1a1a" stroke-width="1.5"/>
<line x1="224.20" y1="687.14" x2="239.70" y2="687.14" stroke="#1a1a1a" stroke-width="1.5"/>
<rect x="217.15" y="662.18" width="29.60" height="9.79" fill="#ececec" stroke="#1a1a1a" stroke-width="1.5"/>
<line x1="217.15" y1="666.83" x2="246.75" y2="666.83" stroke="#1a1a1a" stroke-width="1.5"/>
<rect x="229.75" y="662.67" width="4.4" height="4.4" fill="#000"/>
<circle cx="231.95" cy="605.40" r="2.6" fill="none" stroke="#8a8a8a" stroke-width="0.8"/>
<circle cx="231.95" cy="620.33" r="2.6" fill="none" stroke="#8a8a8a" stroke-width="0.8"/>
<circle cx="231.95" cy="626.93" r="2.6" fill="none" stroke="#8a8a8a" stroke-width="0.8"/>
<circle cx="231.95" cy="629.63" r="2.6" fill="none" stroke="#8a8a8a" stroke-width="0.8"/>
<circle cx="231.95" cy="631.83" r="2.6" fill="none" stroke="#8a8a8a" stroke-width="0.8"/>
<circle cx="231.95" cy="634.03" r="2.6" fill="none" stroke="#8a8a8a" stroke-width="0.8"/>
<circle cx="231.95" cy="636.48" r="2.6" fill="none" stroke="#8a8a8a" stroke-width="0.8"/>
<circle cx="231.95" cy="639.91" r="2.6" fill="none" stroke="#8a8a8a" stroke-width="0.8"/>
<circle cx="231.95" cy="643.58" r="2.6" fill="none" stroke="#8a8a8a" stroke-width="0.8"/>
<circle cx="231.95" cy="690.08" r="2.6" fill="none" stroke="#8a8a8a" stroke-width="0.8"/>
<circle cx="231.95" cy="693.02" r="2.6" fill="none" stroke="#8a8a8a" stroke-width="0.8"/>
<circle cx="231.95" cy="696.20" r="2.6" fill="none" stroke="#8a8a8a" stroke-width="0.8"/>
<line x1="277.50" y1="593.16" x2="277.50" y2="637.95" stroke="#1a1a1a" stroke-width="1.5"/>
<line x1="277.50" y1="667.32" x2="277.50" y2="698.89" stroke="#1a1a1a" stroke-width="1.5"/>
<line x1="269.75" y1="593.16" x2="285.25" y2="593.16" stroke="#1a1a1a" stroke-width="1.5"/>
<line x1="269.75" y1="698.89" x2="285.25" y2="698.89" stroke="#1a1a1a" stroke-width="1.5"/>
<rect x="262.70" y="637.95" width="29.60" height="29.37" fill="#ececec" stroke="#1a1a1a" stroke-width="1.5"/>
<line x1="262.70" y1="649.69" x2="292.30" y2="649.69" stroke="#1a1a1a" stroke-width="1.5"/>
<rect x="275.30" y="648.47" width="4.4" height="4.4" fill="#000"/>
<circle cx="277.50" cy="527.32" r="2.6" fill="none" stroke="#8a8a8a" stroke-width="0.8"/>
<circle cx="277.50" cy="578.47" r="2.6" fill="none" stroke="#8a8a8a" stroke-width="0.8"/>
<circle cx="277.50" cy="586.06" r="2.6" fill="none" stroke="#8a8a8a" stroke-width="0.8"/>
<line x1="323.05" y1="534.91" x2="323.05" y2="600.75" stroke="#1a1a1a" stroke-width="1.5"/>
<line x1="323.05" y1="647.49" x2="323.05" y2="682.00" stroke="#1a1a1a" stroke-width="1.5"/>
<line x1="315.30" y1="534.91" x2="330.80" y2="534.91" stroke="#1a1a1a" stroke-width="1.5"/>
<line x1="315.30" y1="682.00" x2="330.80" y2="682.00" stroke="#1a1a1a" stroke-width="1.5"/>
<rect x="308.25" y="600.75" width="29.60" height="46.75" fill="#ececec" stroke="#1a1a1a" stroke-width="1.5"/>
<line x1="308.25" y1="619.59" x2="337.85" y2="619.59" stroke="#1a1a1a" stroke-width="1.5"/>
<rect x="320.85" y="617.39" width="4.4" height="4.4" fill="#000"/>
<circle cx="323.05" cy="515.08" r="2.6" fill="none" stroke="#8a8a8a" stroke-width="0.8"/>
<circle cx="323.05" cy="529.77" r="2.6" fill="none" stroke="#8a8a8a" stroke-width="0.8"/>
<line x1="368.60" y1="527.32" x2="368.60" y2="591.20" stroke="#1a1a1a" stroke-width="1.5"/>
<line x1="368.60" y1="640.39" x2="368.60" y2="684.69" stroke="#1a1a1a" stroke-width="1.5"/>
<line x1="360.85" y1="527.32" x2="376.35" y2="527.32" stroke="#1a1a1a" stroke-width="1.5"/>
<line x1="360.85" y1="684.69" x2="376.35" y2="684.69" stroke="#1a1a1a" stroke-width="1.5"/>
<rect x="353.80" y="591.20" width="29.60" height="49.19" fill="#ececec" stroke="#1a1a1a" stroke-width="1.5"/>
<line x1="353.80" y1="620.33" x2="383.40" y2="620.33" stroke="#1a1a1a" stroke-width="1.5"/>
<rect x="366.40" y="614.45" width="4.4" height="4.4" fill="#000"/>
<line x1="414.15" y1="676.62" x2="414.15" y2="708.92" stroke="#1a1a1a" stroke-width="1.5"/>
<line x1="414.15" y1="740.99" x2="414.15" y2="767.91" stroke="#1a1a1a" stroke-width="1.5"/>
<line x1="406.40" y1="676.62" x2="421.90" y2="676.62" stroke="#1a1a1a" stroke-width="1.5"/>
<line x1="406.40" y1="767.91" x2="421.90" y2="767.91" stroke="#1a1a1a" stroke-width="1.5"/>
<rect x="399.35" y="708.92" width="29.60" height="32.06" fill="#858585" stroke="#1a1a1a" stroke-width="1.5"/>
<line x1="399.35" y1="730.22" x2="428.95" y2="730.22" stroke="#1a1a1a" stroke-width="1.5"/>
<rect x="411.95" y="722.63" width="4.4" height="4.4" fill="#000"/>
<circle cx="414.15" cy="644.80" r="2.6" fill="none" stroke="#8a8a8a" stroke-width="0.8"/>
<circle cx="414.15" cy="799.48" r="2.6" fill="none" stroke="#8a8a8a" stroke-width="0.8"/>
<line x1="459.70" y1="586.06" x2="459.70" y2="642.84" stroke="#1a1a1a" stroke-width="1.5"/>
<line x1="459.70" y1="687.14" x2="459.70" y2="698.89" stroke="#1a1a1a" stroke-width="1.5"/>
<line x1="451.95" y1="586.06" x2="467.45" y2="586.06" stroke="#1a1a1a" stroke-width="1.5"/>
<line x1="451.95" y1="698.89" x2="467.45" y2="698.89" stroke="#1a1a1a" stroke-width="1.5"/>
<rect x="444.90" y="642.84" width="29.60" height="44.30" fill="#858585" stroke="#1a1a1a" stroke-width="1.5"/>
<line x1="444.90" y1="671.97" x2="474.50" y2="671.97" stroke="#1a1a1a" stroke-width="1.5"/>
<rect x="457.50" y="662.67" width="4.4" height="4.4" fill="#000"/>
<circle cx="459.70" cy="497.95" r="2.6" fill="none" stroke="#8a8a8a" stroke-width="0.8"/>
<circle cx="459.70" cy="542.00" r="2.6" fill="none" stroke="#8a8a8a" stroke-width="0.8"/>
<circle cx="459.70" cy="561.34" r="2.6" fill="none" stroke="#8a8a8a" stroke-width="0.8"/>
<circle cx="459.70" cy="566.48" r="2.6" fill="none" stroke="#8a8a8a" stroke-width="0.8"/>
<circle cx="459.70" cy="764.73" r="2.6" fill="none" stroke="#8a8a8a" stroke-width="0.8"/>
<circle cx="459.70" cy="806.58" r="2.6" fill="none" stroke="#8a8a8a" stroke-width="0.8"/>
<line x1="505.25" y1="632.81" x2="505.25" y2="669.27" stroke="#1a1a1a" stroke-width="1.5"/>
<line x1="505.25" y1="696.69" x2="505.25" y2="735.85" stroke="#1a1a1a" stroke-width="1.5"/>
<line x1="497.50" y1="632.81" x2="513.00" y2="632.81" stroke="#1a1a1a" stroke-width="1.5"/>
<line x1="497.50" y1="735.85" x2="513.00" y2="735.85" stroke="#1a1a1a" stroke-width="1.5"/>
<rect x="490.45" y="669.27" width="29.60" height="27.41" fill="#858585" stroke="#1a1a1a" stroke-width="1.5"/>
<line x1="490.45" y1="681.51" x2="520.05" y2="681.51" stroke="#1a1a1a" stroke-width="1.5"/>
<rect x="503.05" y="684.45" width="4.4" height="4.4" fill="#000"/>
<circle cx="505.25" cy="529.77" r="2.6" fill="none" stroke="#8a8a8a" stroke-width="0.8"/>
<circle cx="505.25" cy="561.34" r="2.6" fill="none" stroke="#8a8a8a" stroke-width="0.8"/>
<circle cx="505.25" cy="578.47" r="2.6" fill="none" stroke="#8a8a8a" stroke-width="0.8"/>
<circle cx="505.25" cy="583.61" r="2.6" fill="none" stroke="#8a8a8a" stroke-width="0.8"/>
<circle cx="505.25" cy="595.85" r="2.6" fill="none" stroke="#8a8a8a" stroke-width="0.8"/>
<circle cx="505.25" cy="603.19" r="2.6" fill="none" stroke="#8a8a8a" stroke-width="0.8"/>
<circle cx="505.25" cy="603.44" r="2.6" fill="none" stroke="#8a8a8a" stroke-width="0.8"/>
<circle cx="505.25" cy="627.67" r="2.6" fill="none" stroke="#8a8a8a" stroke-width="0.8"/>
<circle cx="505.25" cy="740.50" r="2.6" fill="none" stroke="#8a8a8a" stroke-width="0.8"/>
<circle cx="505.25" cy="757.63" r="2.6" fill="none" stroke="#8a8a8a" stroke-width="0.8"/>
<circle cx="505.25" cy="759.83" r="2.6" fill="none" stroke="#8a8a8a" stroke-width="0.8"/>
<circle cx="505.25" cy="769.87" r="2.6" fill="none" stroke="#8a8a8a" stroke-width="0.8"/>
<circle cx="505.25" cy="784.55" r="2.6" fill="none" stroke="#8a8a8a" stroke-width="0.8"/>
<circle cx="505.25" cy="794.83" r="2.6" fill="none" stroke="#8a8a8a" stroke-width="0.8"/>
<circle cx="505.25" cy="814.17" r="2.6" fill="none" stroke="#8a8a8a" stroke-width="0.8"/>
<rect x="88.8" y="453.9" width="34.7" height="17.1" fill="#ececec" stroke="#1a1a1a" stroke-width="1.5"/>
<line x1="106.1" y1="473.8" x2="106.1" y2="490" stroke="#1a1a1a" stroke-width="1.5"/>
<line x1="100.4" y1="473.8" x2="112" y2="473.8" stroke="#1a1a1a" stroke-width="1.5"/>
<line x1="100.4" y1="490" x2="112" y2="490" stroke="#1a1a1a" stroke-width="1.5"/>
<line x1="95.3" y1="501" x2="117" y2="501" stroke="#1a1a1a" stroke-width="1.5"/>
<rect x="103.9" y="518.5" width="4.4" height="4.4" fill="#000"/>
<circle cx="106" cy="540" r="2.6" fill="none" stroke="#8a8a8a" stroke-width="0.8"/>
<text x="128.3" y="467.80" font-size="15.3" fill="#000">25%~75%</text>
<text x="128.3" y="487.30" font-size="15.3" fill="#000">1.5IQR range</text>
<text x="128.3" y="507.05" font-size="15.3" fill="#000">Median line</text>
<text x="128.3" y="526.05" font-size="15.3" fill="#000">Mean value</text>
<text x="128.3" y="545.30" font-size="15.3" fill="#000">Outliers</text>
<text x="103.50" y="807.30" font-size="67" text-anchor="start" font-weight="bold" fill="#000" >c</text>
<rect x="72.60" y="449.00" width="455.20" height="366.80" fill="none" stroke="#222" stroke-width="1.3"/>
<line x1="65.60" y1="791.65" x2="72.60" y2="791.65" stroke="#222" stroke-width="1.3" />
<text x="61.40" y="796.65" font-size="16.2" text-anchor="end" font-weight="normal" fill="#000" >3.4</text>
<line x1="65.60" y1="742.70" x2="72.60" y2="742.70" stroke="#222" stroke-width="1.3" />
<text x="61.40" y="747.70" font-size="16.2" text-anchor="end" font-weight="normal" fill="#000" >3.6</text>
<line x1="65.60" y1="693.75" x2="72.60" y2="693.75" stroke="#222" stroke-width="1.3" />
<text x="61.40" y="698.75" font-size="16.2" text-anchor="end" font-weight="normal" fill="#000" >3.8</text>
<line x1="65.60" y1="644.80" x2="72.60" y2="644.80" stroke="#222" stroke-width="1.3" />
<text x="61.40" y="649.80" font-size="16.2" text-anchor="end" font-weight="normal" fill="#000" >4.0</text>
<line x1="65.60" y1="595.85" x2="72.60" y2="595.85" stroke="#222" stroke-width="1.3" />
<text x="61.40" y="600.85" font-size="16.2" text-anchor="end" font-weight="normal" fill="#000" >4.2</text>
<line x1="65.60" y1="546.90" x2="72.60" y2="546.90" stroke="#222" stroke-width="1.3" />
<text x="61.40" y="551.90" font-size="16.2" text-anchor="end" font-weight="normal" fill="#000" >4.4</text>
<line x1="65.60" y1="497.95" x2="72.60" y2="497.95" stroke="#222" stroke-width="1.3" />
<text x="61.40" y="502.95" font-size="16.2" text-anchor="end" font-weight="normal" fill="#000" >4.6</text>
<line x1="65.60" y1="449.00" x2="72.60" y2="449.00" stroke="#222" stroke-width="1.3" />
<text x="61.40" y="454.00" font-size="16.2" text-anchor="end" font-weight="normal" fill="#000" >4.8</text>
<line x1="69.10" y1="767.17" x2="72.60" y2="767.17" stroke="#222" stroke-width="1.3" />
<line x1="69.10" y1="718.22" x2="72.60" y2="718.22" stroke="#222" stroke-width="1.3" />
<line x1="69.10" y1="669.27" x2="72.60" y2="669.27" stroke="#222" stroke-width="1.3" />
<line x1="69.10" y1="620.33" x2="72.60" y2="620.33" stroke="#222" stroke-width="1.3" />
<line x1="69.10" y1="571.38" x2="72.60" y2="571.38" stroke="#222" stroke-width="1.3" />
<line x1="69.10" y1="522.42" x2="72.60" y2="522.42" stroke="#222" stroke-width="1.3" />
<line x1="69.10" y1="473.47" x2="72.60" y2="473.47" stroke="#222" stroke-width="1.3" />
<line x1="630.60" y1="622.66" x2="630.60" y2="653.11" stroke="#1a1a1a" stroke-width="1.5"/>
<line x1="630.60" y1="673.83" x2="630.60" y2="703.64" stroke="#1a1a1a" stroke-width="1.5"/>
<line x1="622.85" y1="622.66" x2="638.35" y2="622.66" stroke="#1a1a1a" stroke-width="1.5"/>
<line x1="622.85" y1="703.64" x2="638.35" y2="703.64" stroke="#1a1a1a" stroke-width="1.5"/>
<rect x="615.80" y="653.11" width="29.60" height="20.72" fill="#ececec" stroke="#1a1a1a" stroke-width="1.5"/>
<line x1="615.80" y1="662.20" x2="645.40" y2="662.20" stroke="#1a1a1a" stroke-width="1.5"/>
<rect x="628.40" y="660.95" width="4.4" height="4.4" fill="#000"/>
<circle cx="630.60" cy="523.52" r="2.6" fill="none" stroke="#8a8a8a" stroke-width="0.8"/>
<circle cx="630.60" cy="532.60" r="2.6" fill="none" stroke="#8a8a8a" stroke-width="0.8"/>
<circle cx="630.60" cy="539.46" r="2.6" fill="none" stroke="#8a8a8a" stroke-width="0.8"/>
<circle cx="630.60" cy="553.33" r="2.6" fill="none" stroke="#8a8a8a" stroke-width="0.8"/>
<circle cx="630.60" cy="567.03" r="2.6" fill="none" stroke="#8a8a8a" stroke-width="0.8"/>
<circle cx="630.60" cy="569.74" r="2.6" fill="none" stroke="#8a8a8a" stroke-width="0.8"/>
<circle cx="630.60" cy="574.05" r="2.6" fill="none" stroke="#8a8a8a" stroke-width="0.8"/>
<circle cx="630.60" cy="590.31" r="2.6" fill="none" stroke="#8a8a8a" stroke-width="0.8"/>
<circle cx="630.60" cy="593.65" r="2.6" fill="none" stroke="#8a8a8a" stroke-width="0.8"/>
<circle cx="630.60" cy="596.84" r="2.6" fill="none" stroke="#8a8a8a" stroke-width="0.8"/>
<circle cx="630.60" cy="600.03" r="2.6" fill="none" stroke="#8a8a8a" stroke-width="0.8"/>
<circle cx="630.60" cy="603.22" r="2.6" fill="none" stroke="#8a8a8a" stroke-width="0.8"/>
<circle cx="630.60" cy="606.41" r="2.6" fill="none" stroke="#8a8a8a" stroke-width="0.8"/>
<circle cx="630.60" cy="609.59" r="2.6" fill="none" stroke="#8a8a8a" stroke-width="0.8"/>
<circle cx="630.60" cy="612.78" r="2.6" fill="none" stroke="#8a8a8a" stroke-width="0.8"/>
<circle cx="630.60" cy="615.97" r="2.6" fill="none" stroke="#8a8a8a" stroke-width="0.8"/>
<circle cx="630.60" cy="617.56" r="2.6" fill="none" stroke="#8a8a8a" stroke-width="0.8"/>
<circle cx="630.60" cy="705.23" r="2.6" fill="none" stroke="#8a8a8a" stroke-width="0.8"/>
<circle cx="630.60" cy="708.42" r="2.6" fill="none" stroke="#8a8a8a" stroke-width="0.8"/>
<circle cx="630.60" cy="711.61" r="2.6" fill="none" stroke="#8a8a8a" stroke-width="0.8"/>
<circle cx="630.60" cy="713.84" r="2.6" fill="none" stroke="#8a8a8a" stroke-width="0.8"/>
<circle cx="630.60" cy="730.90" r="2.6" fill="none" stroke="#8a8a8a" stroke-width="0.8"/>
<circle cx="630.60" cy="737.59" r="2.6" fill="none" stroke="#8a8a8a" stroke-width="0.8"/>
<circle cx="630.60" cy="748.27" r="2.6" fill="none" stroke="#8a8a8a" stroke-width="0.8"/>
<circle cx="630.60" cy="751.46" r="2.6" fill="none" stroke="#8a8a8a" stroke-width="0.8"/>
<circle cx="630.60" cy="758.79" r="2.6" fill="none" stroke="#8a8a8a" stroke-width="0.8"/>
<circle cx="630.60" cy="761.02" r="2.6" fill="none" stroke="#8a8a8a" stroke-width="0.8"/>
<circle cx="630.60" cy="764.21" r="2.6" fill="none" stroke="#8a8a8a" stroke-width="0.8"/>
<circle cx="630.60" cy="767.40" r="2.6" fill="none" stroke="#8a8a8a" stroke-width="0.8"/>
<circle cx="630.60" cy="769.47" r="2.6" fill="none" stroke="#8a8a8a" stroke-width="0.8"/>
<circle cx="630.60" cy="792.90" r="2.6" fill="none" stroke="#8a8a8a" stroke-width="0.8"/>
<circle cx="630.60" cy="812.03" r="2.6" fill="none" stroke="#8a8a8a" stroke-width="0.8"/>
<line x1="676.15" y1="510.77" x2="676.15" y2="577.71" stroke="#1a1a1a" stroke-width="1.5"/>
<line x1="676.15" y1="651.52" x2="676.15" y2="703.64" stroke="#1a1a1a" stroke-width="1.5"/>
<line x1="668.40" y1="510.77" x2="683.90" y2="510.77" stroke="#1a1a1a" stroke-width="1.5"/>
<line x1="668.40" y1="703.64" x2="683.90" y2="703.64" stroke="#1a1a1a" stroke-width="1.5"/>
<rect x="661.35" y="577.71" width="29.60" height="73.80" fill="#ececec" stroke="#1a1a1a" stroke-width="1.5"/>
<line x1="661.35" y1="618.68" x2="690.95" y2="618.68" stroke="#1a1a1a" stroke-width="1.5"/>
<rect x="673.95" y="614.41" width="4.4" height="4.4" fill="#000"/>
<line x1="721.70" y1="635.26" x2="721.70" y2="654.54" stroke="#1a1a1a" stroke-width="1.5"/>
<line x1="721.70" y1="667.14" x2="721.70" y2="681.80" stroke="#1a1a1a" stroke-width="1.5"/>
<line x1="713.95" y1="635.26" x2="729.45" y2="635.26" stroke="#1a1a1a" stroke-width="1.5"/>
<line x1="713.95" y1="681.80" x2="729.45" y2="681.80" stroke="#1a1a1a" stroke-width="1.5"/>
<rect x="706.90" y="654.54" width="29.60" height="12.59" fill="#ececec" stroke="#1a1a1a" stroke-width="1.5"/>
<line x1="706.90" y1="658.53" x2="736.50" y2="658.53" stroke="#1a1a1a" stroke-width="1.5"/>
<rect x="719.50" y="660.95" width="4.4" height="4.4" fill="#000"/>
<circle cx="721.70" cy="626.17" r="2.6" fill="none" stroke="#8a8a8a" stroke-width="0.8"/>
<circle cx="721.70" cy="628.72" r="2.6" fill="none" stroke="#8a8a8a" stroke-width="0.8"/>
<circle cx="721.70" cy="631.11" r="2.6" fill="none" stroke="#8a8a8a" stroke-width="0.8"/>
<circle cx="721.70" cy="633.50" r="2.6" fill="none" stroke="#8a8a8a" stroke-width="0.8"/>
<circle cx="721.70" cy="686.42" r="2.6" fill="none" stroke="#8a8a8a" stroke-width="0.8"/>
<circle cx="721.70" cy="694.08" r="2.6" fill="none" stroke="#8a8a8a" stroke-width="0.8"/>
<circle cx="721.70" cy="697.26" r="2.6" fill="none" stroke="#8a8a8a" stroke-width="0.8"/>
<circle cx="721.70" cy="699.02" r="2.6" fill="none" stroke="#8a8a8a" stroke-width="0.8"/>
<circle cx="721.70" cy="711.29" r="2.6" fill="none" stroke="#8a8a8a" stroke-width="0.8"/>
<circle cx="721.70" cy="713.84" r="2.6" fill="none" stroke="#8a8a8a" stroke-width="0.8"/>
<circle cx="721.70" cy="724.36" r="2.6" fill="none" stroke="#8a8a8a" stroke-width="0.8"/>
<circle cx="721.70" cy="756.24" r="2.6" fill="none" stroke="#8a8a8a" stroke-width="0.8"/>
<circle cx="721.70" cy="770.91" r="2.6" fill="none" stroke="#8a8a8a" stroke-width="0.8"/>
<line x1="767.25" y1="567.03" x2="767.25" y2="601.94" stroke="#1a1a1a" stroke-width="1.5"/>
<line x1="767.25" y1="661.08" x2="767.25" y2="719.26" stroke="#1a1a1a" stroke-width="1.5"/>
<line x1="759.50" y1="567.03" x2="775.00" y2="567.03" stroke="#1a1a1a" stroke-width="1.5"/>
<line x1="759.50" y1="719.26" x2="775.00" y2="719.26" stroke="#1a1a1a" stroke-width="1.5"/>
<rect x="752.45" y="601.94" width="29.60" height="59.14" fill="#ececec" stroke="#1a1a1a" stroke-width="1.5"/>
<line x1="752.45" y1="641.95" x2="782.05" y2="641.95" stroke="#1a1a1a" stroke-width="1.5"/>
<rect x="765.05" y="631.14" width="4.4" height="4.4" fill="#000"/>
<line x1="812.80" y1="600.35" x2="812.80" y2="644.98" stroke="#1a1a1a" stroke-width="1.5"/>
<line x1="812.80" y1="675.27" x2="812.80" y2="719.26" stroke="#1a1a1a" stroke-width="1.5"/>
<line x1="805.05" y1="600.35" x2="820.55" y2="600.35" stroke="#1a1a1a" stroke-width="1.5"/>
<line x1="805.05" y1="719.26" x2="820.55" y2="719.26" stroke="#1a1a1a" stroke-width="1.5"/>
<rect x="798.00" y="644.98" width="29.60" height="30.29" fill="#ececec" stroke="#1a1a1a" stroke-width="1.5"/>
<line x1="798.00" y1="661.72" x2="827.60" y2="661.72" stroke="#1a1a1a" stroke-width="1.5"/>
<rect x="810.60" y="659.04" width="4.4" height="4.4" fill="#000"/>
<circle cx="812.80" cy="571.34" r="2.6" fill="none" stroke="#8a8a8a" stroke-width="0.8"/>
<circle cx="812.80" cy="578.67" r="2.6" fill="none" stroke="#8a8a8a" stroke-width="0.8"/>
<circle cx="812.80" cy="580.90" r="2.6" fill="none" stroke="#8a8a8a" stroke-width="0.8"/>
<circle cx="812.80" cy="584.09" r="2.6" fill="none" stroke="#8a8a8a" stroke-width="0.8"/>
<circle cx="812.80" cy="590.47" r="2.6" fill="none" stroke="#8a8a8a" stroke-width="0.8"/>
<circle cx="812.80" cy="593.65" r="2.6" fill="none" stroke="#8a8a8a" stroke-width="0.8"/>
<circle cx="812.80" cy="595.25" r="2.6" fill="none" stroke="#8a8a8a" stroke-width="0.8"/>
<circle cx="812.80" cy="597.96" r="2.6" fill="none" stroke="#8a8a8a" stroke-width="0.8"/>
<circle cx="812.80" cy="720.86" r="2.6" fill="none" stroke="#8a8a8a" stroke-width="0.8"/>
<circle cx="812.80" cy="729.14" r="2.6" fill="none" stroke="#8a8a8a" stroke-width="0.8"/>
<circle cx="812.80" cy="736.48" r="2.6" fill="none" stroke="#8a8a8a" stroke-width="0.8"/>
<circle cx="812.80" cy="740.30" r="2.6" fill="none" stroke="#8a8a8a" stroke-width="0.8"/>
<circle cx="812.80" cy="743.49" r="2.6" fill="none" stroke="#8a8a8a" stroke-width="0.8"/>
<circle cx="812.80" cy="745.56" r="2.6" fill="none" stroke="#8a8a8a" stroke-width="0.8"/>
<circle cx="812.80" cy="751.46" r="2.6" fill="none" stroke="#8a8a8a" stroke-width="0.8"/>
<line x1="858.35" y1="533.56" x2="858.35" y2="606.41" stroke="#1a1a1a" stroke-width="1.5"/>
<line x1="858.35" y1="665.70" x2="858.35" y2="739.03" stroke="#1a1a1a" stroke-width="1.5"/>
<line x1="850.60" y1="533.56" x2="866.10" y2="533.56" stroke="#1a1a1a" stroke-width="1.5"/>
<line x1="850.60" y1="739.03" x2="866.10" y2="739.03" stroke="#1a1a1a" stroke-width="1.5"/>
<rect x="843.55" y="606.41" width="29.60" height="59.30" fill="#ececec" stroke="#1a1a1a" stroke-width="1.5"/>
<line x1="843.55" y1="638.29" x2="873.15" y2="638.29" stroke="#1a1a1a" stroke-width="1.5"/>
<rect x="856.15" y="635.61" width="4.4" height="4.4" fill="#000"/>
<circle cx="858.35" cy="487.02" r="2.6" fill="none" stroke="#8a8a8a" stroke-width="0.8"/>
<circle cx="858.35" cy="513.95" r="2.6" fill="none" stroke="#8a8a8a" stroke-width="0.8"/>
<circle cx="858.35" cy="784.62" r="2.6" fill="none" stroke="#8a8a8a" stroke-width="0.8"/>
<circle cx="858.35" cy="789.72" r="2.6" fill="none" stroke="#8a8a8a" stroke-width="0.8"/>
<line x1="903.90" y1="488.61" x2="903.90" y2="584.73" stroke="#1a1a1a" stroke-width="1.5"/>
<line x1="903.90" y1="673.35" x2="903.90" y2="759.75" stroke="#1a1a1a" stroke-width="1.5"/>
<line x1="896.15" y1="488.61" x2="911.65" y2="488.61" stroke="#1a1a1a" stroke-width="1.5"/>
<line x1="896.15" y1="759.75" x2="911.65" y2="759.75" stroke="#1a1a1a" stroke-width="1.5"/>
<rect x="889.10" y="584.73" width="29.60" height="88.63" fill="#ececec" stroke="#1a1a1a" stroke-width="1.5"/>
<line x1="889.10" y1="628.24" x2="918.70" y2="628.24" stroke="#1a1a1a" stroke-width="1.5"/>
<rect x="901.70" y="625.57" width="4.4" height="4.4" fill="#000"/>
<line x1="949.45" y1="593.81" x2="949.45" y2="653.11" stroke="#1a1a1a" stroke-width="1.5"/>
<line x1="949.45" y1="697.58" x2="949.45" y2="739.03" stroke="#1a1a1a" stroke-width="1.5"/>
<line x1="941.70" y1="593.81" x2="957.20" y2="593.81" stroke="#1a1a1a" stroke-width="1.5"/>
<line x1="941.70" y1="739.03" x2="957.20" y2="739.03" stroke="#1a1a1a" stroke-width="1.5"/>
<rect x="934.65" y="653.11" width="29.60" height="44.47" fill="#858585" stroke="#1a1a1a" stroke-width="1.5"/>
<line x1="934.65" y1="667.78" x2="964.25" y2="667.78" stroke="#1a1a1a" stroke-width="1.5"/>
<rect x="947.25" y="666.05" width="4.4" height="4.4" fill="#000"/>
<circle cx="949.45" cy="555.40" r="2.6" fill="none" stroke="#8a8a8a" stroke-width="0.8"/>
<line x1="995.00" y1="520.49" x2="995.00" y2="572.14" stroke="#1a1a1a" stroke-width="1.5"/>
<line x1="995.00" y1="670.80" x2="995.00" y2="754.81" stroke="#1a1a1a" stroke-width="1.5"/>
<line x1="987.25" y1="520.49" x2="1002.75" y2="520.49" stroke="#1a1a1a" stroke-width="1.5"/>
<line x1="987.25" y1="754.81" x2="1002.75" y2="754.81" stroke="#1a1a1a" stroke-width="1.5"/>
<rect x="980.20" y="572.14" width="29.60" height="98.67" fill="#858585" stroke="#1a1a1a" stroke-width="1.5"/>
<line x1="980.20" y1="601.94" x2="1009.80" y2="601.94" stroke="#1a1a1a" stroke-width="1.5"/>
<rect x="992.80" y="608.35" width="4.4" height="4.4" fill="#000"/>
<line x1="1040.55" y1="524.00" x2="1040.55" y2="583.13" stroke="#1a1a1a" stroke-width="1.5"/>
<line x1="1040.55" y1="629.20" x2="1040.55" y2="697.58" stroke="#1a1a1a" stroke-width="1.5"/>
<line x1="1032.80" y1="524.00" x2="1048.30" y2="524.00" stroke="#1a1a1a" stroke-width="1.5"/>
<line x1="1032.80" y1="697.58" x2="1048.30" y2="697.58" stroke="#1a1a1a" stroke-width="1.5"/>
<rect x="1025.75" y="583.13" width="29.60" height="46.07" fill="#858585" stroke="#1a1a1a" stroke-width="1.5"/>
<line x1="1025.75" y1="601.94" x2="1055.35" y2="601.94" stroke="#1a1a1a" stroke-width="1.5"/>
<rect x="1038.35" y="599.26" width="4.4" height="4.4" fill="#000"/>
<circle cx="1040.55" cy="461.83" r="2.6" fill="none" stroke="#8a8a8a" stroke-width="0.8"/>
<circle cx="1040.55" cy="478.89" r="2.6" fill="none" stroke="#8a8a8a" stroke-width="0.8"/>
<circle cx="1040.55" cy="482.07" r="2.6" fill="none" stroke="#8a8a8a" stroke-width="0.8"/>
<circle cx="1040.55" cy="484.46" r="2.6" fill="none" stroke="#8a8a8a" stroke-width="0.8"/>
<circle cx="1040.55" cy="487.49" r="2.6" fill="none" stroke="#8a8a8a" stroke-width="0.8"/>
<circle cx="1040.55" cy="712.73" r="2.6" fill="none" stroke="#8a8a8a" stroke-width="0.8"/>
<circle cx="1040.55" cy="717.35" r="2.6" fill="none" stroke="#8a8a8a" stroke-width="0.8"/>
<circle cx="1040.55" cy="748.11" r="2.6" fill="none" stroke="#8a8a8a" stroke-width="0.8"/>
<circle cx="1040.55" cy="770.91" r="2.6" fill="none" stroke="#8a8a8a" stroke-width="0.8"/>
<text x="606.00" y="0.00" font-size="1" text-anchor="start" font-weight="normal" fill="#000" ></text>
<text x="635.00" y="807.50" font-size="71" text-anchor="start" font-weight="normal" fill="#000" >d</text>
<rect x="607.80" y="448.60" width="455.00" height="366.80" fill="none" stroke="#222" stroke-width="1.3"/>
<line x1="600.80" y1="767.40" x2="607.80" y2="767.40" stroke="#222" stroke-width="1.3" />
<text x="596.60" y="772.40" font-size="16.2" text-anchor="end" font-weight="normal" fill="#000" >9.0</text>
<line x1="600.80" y1="687.70" x2="607.80" y2="687.70" stroke="#222" stroke-width="1.3" />
<text x="596.60" y="692.70" font-size="16.2" text-anchor="end" font-weight="normal" fill="#000" >9.5</text>
<line x1="600.80" y1="608.00" x2="607.80" y2="608.00" stroke="#222" stroke-width="1.3" />
<text x="596.60" y="613.00" font-size="16.2" text-anchor="end" font-weight="normal" fill="#000" >10.0</text>
<line x1="600.80" y1="528.30" x2="607.80" y2="528.30" stroke="#222" stroke-width="1.3" />
<text x="596.60" y="533.30" font-size="16.2" text-anchor="end" font-weight="normal" fill="#000" >10.5</text>
<line x1="600.80" y1="448.60" x2="607.80" y2="448.60" stroke="#222" stroke-width="1.3" />
<text x="596.60" y="453.60" font-size="16.2" text-anchor="end" font-weight="normal" fill="#000" >11.0</text>
<line x1="604.30" y1="807.25" x2="607.80" y2="807.25" stroke="#222" stroke-width="1.3" />
<line x1="604.30" y1="727.55" x2="607.80" y2="727.55" stroke="#222" stroke-width="1.3" />
<line x1="604.30" y1="647.85" x2="607.80" y2="647.85" stroke="#222" stroke-width="1.3" />
<line x1="604.30" y1="568.15" x2="607.80" y2="568.15" stroke="#222" stroke-width="1.3" />
<line x1="604.30" y1="488.45" x2="607.80" y2="488.45" stroke="#222" stroke-width="1.3" />
<line x1="95.30" y1="815.80" x2="95.30" y2="822.80" stroke="#222" stroke-width="1.3" />
<text transform="translate(101.3,839.8) rotate(-31)" font-size="12" text-anchor="end" fill="#000">EWZ</text>
<line x1="630.60" y1="815.40" x2="630.60" y2="822.40" stroke="#222" stroke-width="1.3" />
<text transform="translate(636.6,839.4) rotate(-31)" font-size="12" text-anchor="end" fill="#000">EWZ</text>
<line x1="140.85" y1="815.80" x2="140.85" y2="822.80" stroke="#222" stroke-width="1.3" />
<text transform="translate(146.8,839.8) rotate(-31)" font-size="12" text-anchor="end" fill="#000">M-LWZ</text>
<line x1="676.15" y1="815.40" x2="676.15" y2="822.40" stroke="#222" stroke-width="1.3" />
<text transform="translate(682.1,839.4) rotate(-31)" font-size="12" text-anchor="end" fill="#000">M-LWZ</text>
<line x1="186.40" y1="815.80" x2="186.40" y2="822.80" stroke="#222" stroke-width="1.3" />
<text transform="translate(192.4,839.8) rotate(-31)" font-size="12" text-anchor="end" fill="#000">ESA</text>
<line x1="721.70" y1="815.40" x2="721.70" y2="822.40" stroke="#222" stroke-width="1.3" />
<text transform="translate(727.7,839.4) rotate(-31)" font-size="12" text-anchor="end" fill="#000">ESA</text>
<line x1="231.95" y1="815.80" x2="231.95" y2="822.80" stroke="#222" stroke-width="1.3" />
<text transform="translate(237.9,839.8) rotate(-31)" font-size="12" text-anchor="end" fill="#000">MSA</text>
<line x1="767.25" y1="815.40" x2="767.25" y2="822.40" stroke="#222" stroke-width="1.3" />
<text transform="translate(773.2,839.4) rotate(-31)" font-size="12" text-anchor="end" fill="#000">MSA</text>
<line x1="277.50" y1="815.80" x2="277.50" y2="822.80" stroke="#222" stroke-width="1.3" />
<text transform="translate(283.5,839.8) rotate(-31)" font-size="12" text-anchor="end" fill="#000">LSA</text>
<line x1="812.80" y1="815.40" x2="812.80" y2="822.40" stroke="#222" stroke-width="1.3" />
<text transform="translate(818.8,839.4) rotate(-31)" font-size="12" text-anchor="end" fill="#000">LSA</text>
<line x1="323.05" y1="815.80" x2="323.05" y2="822.80" stroke="#222" stroke-width="1.3" />
<text transform="translate(329.1,839.8) rotate(-31)" font-size="12" text-anchor="end" fill="#000">EWS</text>
<line x1="858.35" y1="815.40" x2="858.35" y2="822.40" stroke="#222" stroke-width="1.3" />
<text transform="translate(864.4,839.4) rotate(-31)" font-size="12" text-anchor="end" fill="#000">EWS</text>
<line x1="368.60" y1="815.80" x2="368.60" y2="822.80" stroke="#222" stroke-width="1.3" />
<text transform="translate(374.6,839.8) rotate(-31)" font-size="12" text-anchor="end" fill="#000">M-LWS</text>
<line x1="903.90" y1="815.40" x2="903.90" y2="822.40" stroke="#222" stroke-width="1.3" />
<text transform="translate(909.9,839.4) rotate(-31)" font-size="12" text-anchor="end" fill="#000">M-LWS</text>
<line x1="414.15" y1="815.80" x2="414.15" y2="822.80" stroke="#222" stroke-width="1.3" />
<text transform="translate(420.1,839.8) rotate(-31)" font-size="12" text-anchor="end" fill="#000">9-LY of SG E</text>
<line x1="949.45" y1="815.40" x2="949.45" y2="822.40" stroke="#222" stroke-width="1.3" />
<text transform="translate(955.5,839.4) rotate(-31)" font-size="12" text-anchor="end" fill="#000">9-LY of SG E</text>
<line x1="459.70" y1="815.80" x2="459.70" y2="822.80" stroke="#222" stroke-width="1.3" />
<text transform="translate(465.7,839.8) rotate(-31)" font-size="12" text-anchor="end" fill="#000">15-NM-NG of SG E</text>
<line x1="995.00" y1="815.40" x2="995.00" y2="822.40" stroke="#222" stroke-width="1.3" />
<text transform="translate(1001.0,839.4) rotate(-31)" font-size="12" text-anchor="end" fill="#000">15-NM-NG of SG E</text>
<line x1="505.25" y1="815.80" x2="505.25" y2="822.80" stroke="#222" stroke-width="1.3" />
<text transform="translate(511.2,839.8) rotate(-31)" font-size="12" text-anchor="end" fill="#000">16-NM-SH of SG E</text>
<line x1="1040.55" y1="815.40" x2="1040.55" y2="822.40" stroke="#222" stroke-width="1.3" />
<text transform="translate(1046.5,839.4) rotate(-31)" font-size="12" text-anchor="end" fill="#000">16-NM-SH of SG E</text>
<text transform="translate(31.5,632) rotate(-90)" font-size="24" font-weight="bold" text-anchor="middle" fill="#000">μ</text>
<text transform="translate(559,632.5) rotate(-90)" font-size="24" font-weight="bold" text-anchor="middle" fill="#000">κ</text>
</svg></body></html>
